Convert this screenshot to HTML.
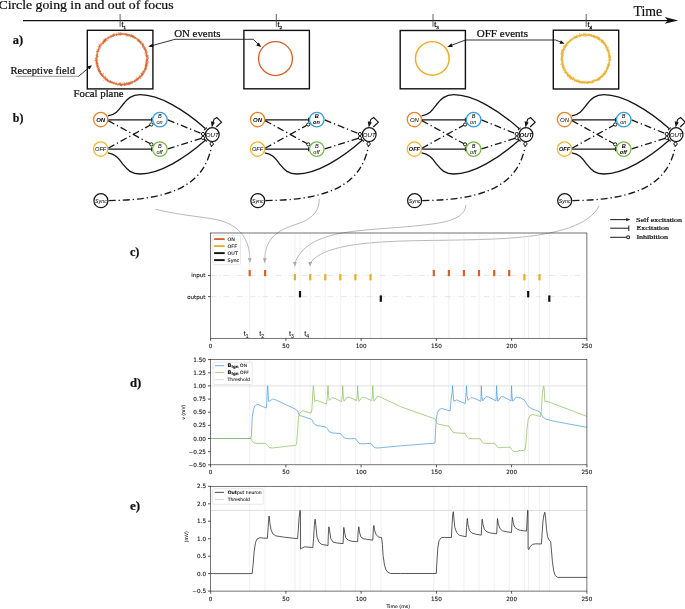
<!DOCTYPE html>
<html lang="en"><head><meta charset="utf-8"><title>Circle going in and out of focus</title>
<style>
html,body{margin:0;padding:0;background:#fff;}
body{width:685px;height:609px;overflow:hidden;}
svg{display:block;font-family:"Liberation Serif","DejaVu Serif",serif;}
</style></head><body>
<svg width="685" height="609" viewBox="0 0 685 609">
<rect width="685" height="609" fill="#fff"/>
<g id="panel-a">
<text x="-1.5" y="8.9" font-size="11.6" text-anchor="start" fill="#111" stroke="#111" stroke-width="0.22" textLength="175.0" lengthAdjust="spacingAndGlyphs" >Circle going in and out of focus</text>
<text x="633.6" y="15.5" font-size="14.2" text-anchor="start" fill="#111" stroke="#111" stroke-width="0.22" textLength="28.6" lengthAdjust="spacingAndGlyphs" >Time</text>
<line x1="23" y1="20.5" x2="668" y2="20.5" stroke="#111" stroke-width="1.25"/>
<path d="M678.2,20.4 L664.6,17.0 L668.0,20.4 L664.6,23.8 Z" fill="#111"/>
<line x1="120.1" y1="14.0" x2="120.1" y2="26.9" stroke="#3a3a3a" stroke-width="0.8"/>
<text x="121.4" y="27.1" font-size="7.2" fill="#111" stroke="#111" stroke-width="0.3">t<tspan font-size="5.0" dy="1.6">1</tspan></text>
<line x1="276.3" y1="14.0" x2="276.3" y2="26.9" stroke="#3a3a3a" stroke-width="0.8"/>
<text x="277.6" y="27.1" font-size="7.2" fill="#111" stroke="#111" stroke-width="0.3">t<tspan font-size="5.0" dy="1.6">2</tspan></text>
<line x1="433.0" y1="14.0" x2="433.0" y2="26.9" stroke="#3a3a3a" stroke-width="0.8"/>
<text x="434.3" y="27.1" font-size="7.2" fill="#111" stroke="#111" stroke-width="0.3">t<tspan font-size="5.0" dy="1.6">3</tspan></text>
<line x1="586.2" y1="14.0" x2="586.2" y2="26.9" stroke="#3a3a3a" stroke-width="0.8"/>
<text x="587.5" y="27.1" font-size="7.2" fill="#111" stroke="#111" stroke-width="0.3">t<tspan font-size="5.0" dy="1.6">4</tspan></text>
<rect x="87.3" y="30.3" width="65.6" height="58.6" fill="none" stroke="#111" stroke-width="1.4"/>
<rect x="243.9" y="30.4" width="65.5" height="58.4" fill="none" stroke="#111" stroke-width="1.4"/>
<rect x="400.2" y="30.5" width="65.2" height="58.3" fill="none" stroke="#111" stroke-width="1.4"/>
<rect x="553.3" y="30.2" width="65.4" height="58.8" fill="none" stroke="#111" stroke-width="1.4"/>
<circle cx="121.8" cy="59.3" r="25.3" fill="none" stroke="#d9602b" stroke-width="1.5" opacity="0.55"/>
<path d="M110.2,82.5h0.01M145.3,70.8h0.01M97.3,53.7h0.01M96.3,58.1h0.01M146.2,65.1h0.01M143.2,73.0h0.01M99.1,70.9h0.01M126.0,83.9h0.01M103.6,40.5h0.01M101.9,74.4h0.01M148.2,55.3h0.01M115.5,84.2h0.01M137.7,79.6h0.01M132.2,35.8h0.01M132.1,81.4h0.01M104.6,77.1h0.01M97.4,51.8h0.01M128.7,83.7h0.01M111.3,36.9h0.01M99.8,46.2h0.01M98.0,66.5h0.01M113.4,34.1h0.01M122.7,83.8h0.01M139.4,41.7h0.01M118.6,34.7h0.01M141.9,77.7h0.01M99.8,71.8h0.01M97.0,61.0h0.01M145.8,65.3h0.01M100.1,48.6h0.01M139.4,41.8h0.01M100.0,44.6h0.01M100.8,47.8h0.01M145.9,50.6h0.01M97.0,63.4h0.01M114.3,35.4h0.01M105.8,38.0h0.01M116.4,83.9h0.01M102.8,75.9h0.01M97.4,65.3h0.01M134.4,81.5h0.01M124.7,34.0h0.01M139.2,77.7h0.01M139.8,40.5h0.01M143.2,71.2h0.01M140.8,42.2h0.01M132.6,36.0h0.01M100.4,71.9h0.01M105.0,80.0h0.01M135.8,78.9h0.01M133.1,82.0h0.01M96.1,61.7h0.01M100.4,45.9h0.01M99.7,71.7h0.01M105.7,76.6h0.01M112.8,36.4h0.01M97.4,56.9h0.01M145.0,67.5h0.01M142.4,44.2h0.01M128.9,36.5h0.01M102.3,75.0h0.01M104.9,40.2h0.01M145.6,69.1h0.01M135.2,81.0h0.01M108.2,80.7h0.01M136.5,79.9h0.01M142.0,74.3h0.01M139.7,41.2h0.01M102.5,42.5h0.01M107.0,80.4h0.01M104.5,79.1h0.01M148.1,58.2h0.01M97.4,64.6h0.01M142.1,74.5h0.01M108.0,80.3h0.01M135.9,81.9h0.01M147.7,63.1h0.01M136.9,79.2h0.01M96.6,52.3h0.01M147.0,55.9h0.01M138.2,40.3h0.01M105.2,77.7h0.01M134.5,81.3h0.01M126.2,35.3h0.01M109.6,81.7h0.01M148.3,56.8h0.01M137.3,38.7h0.01M120.3,35.3h0.01M125.4,83.7h0.01M146.6,63.9h0.01M146.6,63.7h0.01M112.7,35.1h0.01M144.6,52.9h0.01M147.6,57.4h0.01M145.8,52.3h0.01M125.5,84.7h0.01M130.2,83.5h0.01M143.1,43.9h0.01M134.9,38.9h0.01M129.6,35.1h0.01M142.9,71.7h0.01M126.6,35.8h0.01M121.8,34.4h0.01M128.0,34.7h0.01M109.0,81.8h0.01M103.2,73.6h0.01M100.3,74.6h0.01M133.8,81.1h0.01M140.1,78.1h0.01M131.0,34.4h0.01M137.7,80.1h0.01M108.9,39.7h0.01M107.1,79.4h0.01M146.9,61.6h0.01M146.2,54.8h0.01M144.3,49.3h0.01M97.8,69.9h0.01M127.7,82.9h0.01M121.5,84.5h0.01M99.7,46.0h0.01M120.3,84.2h0.01M143.3,45.6h0.01M107.0,78.7h0.01M142.9,44.8h0.01M98.9,71.8h0.01M97.4,54.4h0.01M96.0,55.5h0.01M132.2,82.5h0.01M147.2,59.9h0.01M97.3,63.4h0.01M118.0,34.9h0.01M96.9,56.4h0.01M98.0,50.6h0.01M98.6,50.1h0.01M122.0,84.4h0.01M95.3,58.0h0.01M98.3,49.7h0.01M99.6,67.6h0.01M103.2,43.4h0.01M112.9,35.6h0.01M98.4,66.5h0.01M145.3,50.3h0.01M113.5,34.1h0.01M120.3,83.4h0.01M97.0,49.6h0.01M138.0,78.1h0.01M139.9,76.6h0.01M123.3,84.7h0.01M143.9,70.2h0.01M141.1,44.7h0.01M136.0,80.0h0.01M136.9,78.3h0.01M140.9,42.0h0.01M145.9,51.9h0.01M103.2,73.1h0.01M134.4,37.2h0.01M134.7,80.1h0.01M108.2,81.0h0.01M130.1,82.7h0.01M147.9,62.5h0.01M98.1,50.9h0.01M109.4,81.4h0.01M104.0,41.7h0.01M147.0,56.9h0.01M127.9,34.4h0.01M119.3,84.4h0.01M146.4,65.6h0.01M138.8,77.3h0.01M98.5,71.7h0.01M120.5,83.9h0.01M137.2,80.4h0.01M114.2,35.7h0.01M144.1,73.3h0.01M98.9,70.9h0.01M145.4,70.8h0.01M129.7,35.7h0.01M143.8,72.1h0.01M138.1,40.2h0.01M98.0,66.4h0.01M145.2,47.7h0.01M118.9,85.0h0.01M123.7,85.2h0.01M141.4,75.4h0.01M129.4,83.6h0.01M112.3,82.3h0.01M115.2,84.9h0.01M96.2,59.3h0.01M147.5,62.2h0.01M121.7,85.8h0.01M97.7,51.3h0.01M130.6,81.2h0.01M141.9,75.1h0.01M132.1,37.0h0.01M134.8,37.2h0.01M102.9,74.4h0.01M146.9,56.5h0.01M107.6,80.9h0.01M105.8,41.0h0.01M101.0,73.5h0.01M139.3,77.9h0.01M144.6,70.2h0.01M134.6,80.5h0.01M144.3,72.5h0.01M110.3,38.2h0.01M116.8,84.1h0.01M96.7,65.8h0.01M135.4,80.0h0.01M146.6,53.2h0.01M146.2,55.1h0.01M146.4,53.9h0.01M112.6,82.8h0.01M103.2,76.4h0.01M97.3,63.2h0.01M96.5,58.5h0.01M147.1,60.1h0.01M101.1,74.4h0.01M146.8,66.0h0.01M124.5,84.5h0.01M101.1,46.9h0.01M108.0,38.3h0.01M116.3,34.1h0.01M110.4,81.3h0.01M147.7,56.8h0.01M105.5,38.8h0.01M146.9,66.4h0.01M105.1,42.1h0.01M119.2,34.0h0.01M97.1,55.6h0.01M95.8,58.6h0.01M133.0,37.9h0.01M99.2,46.1h0.01M113.2,36.2h0.01M125.0,84.8h0.01M105.5,78.8h0.01M142.2,75.1h0.01M104.8,41.7h0.01M104.3,41.5h0.01M146.3,59.8h0.01M129.3,35.1h0.01M97.9,53.9h0.01M107.6,37.1h0.01M121.4,85.1h0.01M144.3,70.7h0.01M129.1,84.7h0.01M120.1,33.2h0.01M103.2,76.2h0.01M97.2,62.6h0.01M103.9,43.1h0.01M105.8,39.2h0.01M121.2,84.8h0.01M120.7,34.3h0.01M147.9,61.3h0.01M145.2,68.7h0.01M112.4,34.7h0.01M110.5,36.9h0.01M96.3,65.1h0.01M96.0,64.8h0.01M130.1,84.3h0.01M147.0,55.8h0.01M97.4,65.7h0.01M132.9,35.7h0.01M118.9,84.3h0.01M128.2,84.3h0.01M99.9,47.0h0.01M136.6,77.6h0.01M138.6,77.8h0.01M132.0,37.8h0.01M114.5,35.2h0.01M124.8,85.1h0.01M146.3,63.2h0.01M146.3,59.9h0.01M113.7,83.3h0.01M137.6,78.6h0.01M135.7,37.5h0.01M147.1,59.6h0.01M139.2,75.7h0.01M144.1,48.2h0.01M115.9,82.4h0.01M105.7,76.0h0.01M99.0,45.0h0.01M105.9,78.3h0.01M146.2,66.9h0.01M142.3,74.6h0.01M144.6,49.5h0.01M121.9,84.5h0.01M131.5,83.6h0.01M103.1,78.4h0.01M131.2,36.3h0.01M103.6,39.7h0.01M98.5,51.9h0.01M116.8,33.4h0.01M97.4,67.1h0.01M122.2,34.4h0.01M145.5,66.8h0.01M145.0,47.8h0.01M107.4,80.8h0.01M114.4,83.3h0.01M120.3,82.6h0.01M107.9,38.5h0.01M101.2,75.4h0.01M134.5,81.5h0.01M143.2,45.0h0.01M96.2,59.8h0.01M148.6,58.7h0.01M97.5,67.2h0.01M143.4,73.1h0.01M107.7,80.9h0.01M120.5,84.9h0.01M98.1,48.2h0.01M100.9,72.1h0.01M100.7,72.0h0.01M108.5,80.7h0.01M144.9,68.8h0.01M140.9,78.6h0.01M97.5,58.8h0.01M126.9,83.0h0.01M118.5,84.4h0.01M97.3,68.0h0.01M146.9,51.8h0.01M145.7,62.6h0.01M146.2,64.3h0.01M98.3,63.3h0.01M99.6,45.8h0.01M144.5,48.1h0.01M133.9,35.7h0.01M122.0,83.1h0.01M141.8,75.6h0.01M111.0,35.6h0.01M145.2,50.3h0.01M124.1,35.1h0.01M97.6,66.0h0.01M126.9,34.6h0.01M124.7,85.4h0.01M113.6,82.7h0.01M139.3,77.5h0.01M113.4,34.3h0.01M141.7,76.2h0.01M99.5,46.5h0.01M102.4,75.8h0.01M148.0,61.0h0.01M114.3,81.6h0.01M106.0,39.0h0.01M140.3,42.8h0.01M122.3,84.7h0.01M146.2,53.1h0.01M146.3,62.7h0.01M96.8,59.6h0.01M120.7,83.9h0.01M109.0,36.9h0.01M146.3,64.6h0.01M109.0,80.0h0.01M130.1,83.8h0.01M129.2,35.2h0.01M128.6,82.8h0.01M146.2,54.6h0.01M125.0,85.6h0.01M126.3,84.2h0.01M145.4,52.0h0.01M96.3,60.0h0.01M99.5,72.1h0.01M108.8,37.2h0.01M102.1,74.9h0.01M127.7,84.3h0.01M145.7,67.4h0.01M144.2,68.2h0.01M141.3,41.8h0.01M118.9,32.5h0.01M109.7,81.5h0.01M132.2,83.6h0.01M146.1,64.2h0.01M109.1,38.0h0.01M109.1,81.8h0.01M134.4,81.9h0.01M106.7,79.6h0.01M147.4,52.0h0.01M128.8,85.0h0.01M105.7,79.6h0.01M99.8,69.2h0.01M145.2,66.8h0.01M144.0,47.0h0.01M130.3,82.1h0.01M147.8,64.3h0.01M100.0,73.0h0.01M145.2,65.4h0.01M148.0,65.1h0.01M120.7,85.2h0.01M121.4,33.5h0.01M118.3,84.0h0.01M145.8,52.8h0.01M116.6,34.9h0.01M111.5,82.4h0.01M122.7,34.0h0.01M142.7,47.2h0.01M145.5,62.9h0.01M124.2,82.7h0.01M146.3,52.0h0.01M102.7,75.8h0.01M95.8,60.4h0.01M145.0,48.0h0.01M119.9,32.9h0.01M133.0,36.5h0.01M110.4,80.8h0.01M111.4,81.5h0.01M144.9,71.8h0.01M130.0,83.2h0.01M144.5,69.1h0.01M145.9,64.5h0.01M146.7,56.2h0.01M141.0,42.0h0.01M143.6,72.0h0.01M141.7,73.1h0.01M97.9,67.6h0.01M124.2,83.6h0.01M110.0,36.4h0.01M121.5,33.4h0.01M139.5,76.2h0.01M135.3,38.2h0.01M103.5,78.1h0.01M119.9,33.9h0.01M122.6,85.1h0.01M136.6,80.7h0.01M110.4,81.2h0.01M101.0,75.2h0.01M124.7,84.4h0.01M130.4,36.9h0.01M140.6,73.4h0.01M96.2,63.4h0.01M142.5,47.0h0.01M146.2,65.6h0.01M131.3,83.1h0.01M145.3,55.3h0.01M104.8,76.9h0.01M138.3,40.8h0.01M126.2,34.2h0.01M146.4,50.6h0.01M102.9,41.6h0.01M126.9,83.8h0.01M129.1,83.8h0.01M121.0,83.7h0.01M128.9,82.9h0.01M146.5,61.1h0.01M132.2,83.4h0.01M112.0,83.0h0.01M96.5,51.4h0.01M145.7,69.3h0.01M97.3,51.3h0.01M105.3,39.6h0.01M113.2,35.3h0.01M100.6,72.8h0.01M146.6,51.8h0.01M112.4,82.1h0.01M100.1,71.8h0.01M138.9,39.7h0.01M130.0,83.2h0.01M118.3,34.2h0.01M142.5,44.6h0.01M99.1,71.1h0.01M140.1,42.8h0.01M97.2,65.5h0.01M97.7,51.2h0.01M105.6,39.5h0.01M103.7,41.8h0.01M104.7,77.4h0.01M116.5,84.0h0.01M96.4,55.9h0.01M96.7,60.8h0.01M130.5,35.0h0.01M139.4,77.3h0.01M146.3,50.2h0.01M145.6,67.6h0.01M143.4,48.5h0.01M102.7,41.2h0.01M133.5,36.1h0.01M126.4,85.3h0.01M100.3,74.0h0.01M131.7,81.4h0.01M126.7,83.4h0.01M102.6,76.5h0.01M139.9,77.0h0.01M142.9,43.4h0.01M145.2,65.5h0.01M145.9,65.2h0.01M135.5,37.2h0.01M97.1,51.3h0.01M104.3,41.4h0.01M99.2,46.4h0.01M99.6,70.5h0.01M99.0,68.6h0.01M146.2,62.9h0.01M124.1,83.9h0.01M124.0,33.9h0.01M132.3,81.5h0.01M96.6,63.6h0.01M98.7,70.1h0.01M142.3,72.6h0.01M146.6,65.8h0.01M104.6,39.4h0.01M126.3,33.8h0.01M95.8,57.4h0.01M103.4,77.1h0.01M146.8,51.3h0.01M148.2,58.7h0.01M118.9,34.0h0.01M146.5,56.5h0.01M95.0,60.7h0.01M134.4,80.7h0.01M127.9,34.5h0.01M106.9,79.6h0.01M122.8,33.2h0.01M117.6,85.6h0.01M132.2,35.6h0.01M144.5,46.8h0.01M128.3,83.7h0.01M110.8,83.0h0.01M146.6,65.1h0.01M145.5,49.3h0.01M110.8,36.1h0.01M127.2,34.9h0.01M140.0,75.4h0.01M105.8,78.7h0.01M138.8,41.8h0.01M140.3,42.5h0.01M142.6,75.4h0.01M101.9,74.9h0.01M129.2,35.3h0.01M97.5,46.5h0.01M105.6,78.8h0.01M132.7,81.3h0.01M120.7,32.7h0.01M121.2,85.0h0.01M105.0,39.2h0.01M108.8,37.7h0.01M112.0,82.8h0.01M136.8,79.7h0.01M103.5,43.0h0.01M142.1,43.6h0.01M139.0,78.1h0.01M147.9,63.0h0.01M146.9,59.7h0.01M105.9,79.3h0.01M125.7,83.4h0.01M128.8,83.1h0.01M104.1,41.8h0.01M145.2,49.5h0.01M122.8,84.8h0.01M105.3,39.8h0.01M139.4,40.9h0.01M119.6,83.8h0.01M146.5,61.1h0.01M107.3,79.1h0.01M107.3,40.5h0.01M119.1,33.6h0.01M122.0,84.8h0.01M97.1,54.3h0.01M100.8,73.4h0.01M126.4,34.2h0.01M145.4,61.1h0.01M137.3,78.6h0.01M129.5,82.7h0.01M106.2,40.1h0.01M131.7,35.7h0.01M113.8,83.9h0.01M146.9,67.2h0.01M116.5,35.4h0.01M147.7,60.3h0.01M98.1,64.6h0.01M120.5,34.5h0.01M141.9,74.9h0.01M124.7,85.1h0.01M121.7,33.8h0.01M113.0,34.9h0.01M119.4,83.5h0.01M99.0,51.3h0.01M96.3,55.5h0.01M119.5,83.3h0.01M126.7,82.6h0.01M140.7,41.6h0.01M124.0,84.6h0.01M120.8,32.9h0.01M110.2,81.3h0.01M140.1,42.2h0.01M143.3,45.2h0.01M104.8,41.1h0.01M145.9,56.1h0.01M96.4,64.2h0.01M137.0,40.3h0.01M98.6,69.0h0.01M113.1,82.1h0.01M127.7,83.7h0.01M143.1,46.0h0.01M137.6,79.5h0.01M144.7,48.4h0.01M107.5,80.3h0.01M146.4,65.9h0.01M113.1,36.3h0.01M119.8,34.9h0.01M144.4,69.2h0.01M132.1,36.6h0.01M132.6,36.2h0.01M138.7,40.7h0.01M143.8,46.2h0.01M128.7,83.5h0.01M142.1,76.5h0.01M131.5,35.6h0.01M104.7,40.1h0.01M116.1,83.0h0.01M143.1,74.7h0.01M129.1,84.3h0.01M111.2,82.1h0.01M120.7,84.6h0.01M116.7,83.9h0.01M111.2,81.5h0.01M145.1,53.9h0.01M103.2,42.2h0.01M146.0,64.1h0.01M125.5,33.9h0.01M107.5,79.9h0.01M126.9,83.2h0.01M138.9,39.2h0.01M134.3,82.1h0.01M147.5,59.5h0.01M148.0,55.6h0.01M146.3,60.0h0.01M129.1,35.0h0.01M131.7,81.9h0.01M134.3,37.3h0.01M120.1,85.1h0.01M127.3,83.8h0.01M114.0,35.6h0.01M105.2,40.2h0.01M144.1,71.7h0.01M127.4,35.7h0.01M104.6,41.4h0.01M101.4,75.2h0.01M142.3,42.4h0.01M147.6,63.4h0.01M128.7,83.5h0.01M95.0,59.1h0.01M103.1,77.0h0.01M97.6,65.4h0.01M97.0,54.3h0.01M107.2,40.1h0.01M107.2,79.8h0.01M136.0,37.9h0.01M108.5,37.8h0.01M98.8,68.6h0.01M125.5,34.6h0.01M97.4,65.2h0.01M140.8,42.6h0.01M113.6,83.7h0.01M114.4,34.9h0.01M135.7,80.0h0.01M122.2,84.2h0.01M135.6,81.4h0.01M109.5,82.3h0.01M118.2,32.4h0.01M142.4,74.6h0.01M103.0,76.1h0.01M147.3,56.7h0.01M99.6,68.9h0.01M130.1,83.0h0.01M128.6,83.4h0.01M101.9,76.1h0.01M128.3,34.7h0.01M113.4,36.5h0.01M97.2,65.1h0.01M137.3,78.5h0.01M120.4,34.5h0.01M142.3,45.9h0.01M121.7,33.6h0.01M99.4,71.4h0.01M141.1,41.2h0.01M125.5,34.7h0.01M111.5,37.6h0.01M106.2,40.1h0.01M104.2,40.9h0.01M141.6,73.3h0.01M115.9,34.1h0.01M104.4,40.9h0.01M96.8,66.5h0.01M104.2,42.4h0.01M145.2,48.3h0.01M131.8,81.8h0.01M103.2,74.9h0.01M96.4,60.9h0.01M97.5,52.5h0.01M135.4,81.0h0.01M98.3,56.5h0.01M141.5,73.8h0.01M116.7,34.9h0.01M97.4,57.4h0.01M97.8,56.0h0.01M100.0,73.1h0.01M111.7,36.3h0.01M102.0,75.1h0.01M146.6,56.9h0.01M105.9,79.7h0.01M101.2,74.3h0.01M146.4,61.4h0.01M113.6,35.0h0.01M106.7,79.5h0.01M120.4,33.5h0.01M144.9,50.2h0.01M129.8,35.4h0.01M102.0,75.2h0.01M126.1,34.0h0.01M130.9,36.3h0.01M99.0,49.9h0.01M125.7,85.0h0.01M105.6,40.0h0.01M132.5,36.0h0.01M115.0,82.9h0.01M96.7,51.5h0.01M105.7,80.1h0.01M136.7,39.0h0.01M121.2,85.3h0.01M99.2,70.6h0.01M117.3,34.3h0.01M116.9,84.1h0.01M96.1,62.6h0.01M99.6,70.0h0.01M105.9,77.9h0.01M144.7,48.3h0.01M133.6,37.1h0.01M142.9,45.1h0.01M134.0,37.6h0.01M104.8,40.4h0.01M146.0,51.7h0.01M107.7,38.3h0.01M137.8,79.3h0.01M124.4,84.6h0.01M135.9,79.5h0.01M142.7,44.9h0.01M141.1,43.6h0.01M102.0,43.2h0.01M140.9,44.3h0.01M127.9,34.5h0.01M113.0,36.0h0.01M97.0,54.4h0.01M140.0,42.8h0.01M98.0,50.7h0.01M138.3,79.1h0.01M95.8,60.4h0.01M137.6,79.5h0.01M97.4,60.6h0.01M138.3,40.1h0.01M147.5,60.4h0.01M99.1,49.9h0.01M108.8,37.2h0.01M100.2,71.4h0.01M147.2,52.9h0.01M104.9,39.9h0.01M145.9,63.7h0.01M144.2,49.0h0.01M109.1,82.2h0.01M96.7,61.7h0.01M142.9,43.4h0.01M103.8,41.2h0.01M108.2,81.2h0.01M97.3,63.2h0.01M96.8,55.2h0.01M99.0,69.1h0.01M100.6,70.6h0.01M115.2,83.3h0.01M133.3,37.6h0.01M118.3,84.8h0.01M95.5,58.2h0.01M128.3,35.0h0.01M109.6,81.2h0.01M99.7,45.9h0.01M105.0,40.3h0.01M117.5,34.6h0.01M140.7,42.8h0.01M113.9,83.3h0.01M147.7,60.3h0.01M101.0,42.4h0.01M107.8,37.8h0.01M103.7,44.0h0.01M103.6,42.9h0.01M101.6,45.4h0.01M111.1,36.1h0.01M96.4,66.2h0.01M123.8,33.7h0.01M146.7,65.2h0.01M125.8,33.4h0.01M105.0,77.5h0.01M133.0,36.4h0.01M120.6,83.7h0.01M113.9,82.7h0.01M98.6,70.1h0.01M105.8,39.5h0.01M98.8,48.9h0.01M147.3,65.7h0.01M98.5,47.4h0.01M143.8,47.0h0.01M102.6,75.8h0.01M99.0,44.5h0.01M97.6,63.1h0.01M99.5,73.0h0.01M127.9,84.5h0.01M136.5,80.0h0.01M111.6,36.2h0.01M140.3,77.0h0.01M139.0,40.9h0.01M140.0,78.5h0.01M123.0,84.7h0.01M119.2,34.0h0.01M125.6,34.1h0.01M115.9,34.0h0.01M142.8,71.6h0.01M104.5,41.2h0.01M144.1,49.2h0.01M121.1,85.7h0.01M146.8,61.1h0.01M146.2,61.6h0.01M143.0,70.9h0.01M112.4,82.7h0.01M137.8,40.2h0.01M96.0,61.5h0.01M99.0,47.7h0.01M98.5,68.7h0.01M129.1,35.5h0.01M105.7,78.0h0.01M100.5,71.4h0.01M102.5,76.2h0.01M126.9,36.2h0.01M98.8,49.0h0.01M147.0,55.1h0.01M114.4,34.8h0.01M102.3,44.0h0.01M147.3,55.7h0.01M113.0,82.1h0.01M98.5,70.5h0.01M111.9,36.5h0.01M100.7,43.6h0.01M116.7,83.3h0.01M147.0,59.6h0.01M99.5,45.8h0.01M132.1,36.0h0.01M134.4,37.5h0.01M131.6,35.3h0.01M118.1,83.6h0.01M137.1,38.6h0.01M142.6,46.8h0.01M106.9,80.7h0.01M129.4,34.7h0.01M129.6,83.4h0.01M124.2,82.8h0.01M102.3,43.8h0.01M128.4,83.0h0.01M121.0,84.6h0.01M98.5,65.3h0.01M143.7,72.8h0.01M124.4,83.3h0.01M98.5,46.6h0.01M97.6,56.0h0.01M97.2,63.0h0.01M130.7,82.7h0.01M132.4,82.1h0.01M99.1,49.6h0.01M101.4,73.6h0.01M146.1,66.3h0.01M146.9,58.8h0.01M104.6,40.4h0.01M127.8,34.2h0.01M107.1,80.9h0.01M96.5,56.2h0.01M147.1,57.8h0.01M138.0,41.1h0.01M120.0,84.6h0.01M126.1,36.0h0.01M124.6,33.4h0.01M132.6,35.8h0.01M146.3,65.2h0.01M129.5,83.5h0.01M146.1,67.4h0.01M97.6,50.2h0.01M145.2,51.2h0.01M143.9,45.3h0.01M101.3,74.7h0.01M140.6,77.0h0.01M98.7,49.4h0.01M105.1,38.9h0.01M102.2,74.9h0.01M96.9,67.7h0.01M148.6,57.9h0.01M126.4,84.7h0.01M106.6,79.7h0.01M143.5,44.1h0.01M145.3,66.4h0.01M127.5,34.9h0.01M146.0,57.1h0.01M146.3,68.2h0.01M146.2,49.5h0.01M110.7,36.9h0.01M123.1,33.1h0.01M141.6,74.7h0.01M140.1,77.4h0.01M96.4,62.3h0.01M137.8,79.5h0.01M110.2,35.5h0.01M130.4,83.2h0.01M146.9,65.1h0.01M144.7,49.2h0.01M138.9,40.3h0.01M98.1,67.5h0.01M143.6,74.5h0.01M104.7,41.5h0.01M98.3,66.6h0.01M95.6,63.0h0.01M104.1,40.8h0.01M145.9,68.3h0.01M116.2,35.0h0.01M139.1,41.0h0.01M119.2,84.1h0.01M118.4,84.6h0.01M135.2,38.1h0.01M96.2,60.8h0.01M111.2,82.6h0.01M146.7,55.9h0.01M146.3,68.4h0.01M127.8,83.2h0.01M96.9,62.9h0.01M129.5,84.0h0.01M103.5,80.3h0.01M144.2,47.9h0.01M142.2,73.6h0.01M146.9,68.8h0.01M118.2,34.8h0.01M148.9,62.0h0.01M130.6,35.8h0.01M147.4,59.6h0.01M134.1,37.7h0.01M98.6,69.3h0.01M143.5,45.9h0.01M138.8,79.3h0.01M132.6,82.3h0.01M129.7,82.1h0.01M144.8,71.8h0.01M96.0,60.0h0.01M118.0,84.6h0.01M114.9,34.0h0.01M131.2,36.3h0.01M144.8,69.4h0.01M119.2,35.1h0.01M146.2,68.1h0.01M130.9,36.5h0.01M139.3,39.4h0.01M95.0,60.5h0.01M96.6,63.0h0.01M139.3,41.1h0.01M134.4,36.9h0.01M104.6,78.3h0.01M100.4,44.8h0.01M146.3,60.0h0.01M96.7,56.8h0.01M139.9,76.5h0.01M137.7,41.3h0.01M111.0,82.0h0.01M122.0,34.7h0.01M146.4,69.3h0.01M97.8,60.1h0.01M97.5,57.3h0.01M146.7,62.6h0.01M146.6,54.1h0.01M142.4,74.8h0.01M121.7,84.7h0.01M142.5,73.6h0.01M113.8,35.2h0.01M101.2,44.4h0.01M100.3,48.1h0.01M141.9,74.4h0.01M139.0,40.8h0.01M139.8,76.8h0.01M97.1,60.3h0.01M140.0,76.9h0.01M100.3,73.8h0.01M138.5,39.4h0.01M136.4,78.7h0.01M134.5,80.6h0.01M133.7,36.2h0.01M99.8,71.3h0.01M134.9,38.5h0.01M145.3,50.2h0.01M126.0,34.6h0.01M108.7,81.5h0.01M97.4,69.8h0.01M143.3,46.2h0.01M131.9,36.0h0.01M96.8,56.6h0.01M146.7,52.5h0.01M99.7,71.1h0.01M105.2,41.0h0.01M145.3,70.2h0.01M98.8,69.6h0.01M138.0,78.7h0.01M146.9,54.5h0.01M106.0,41.8h0.01M131.4,34.7h0.01M145.5,64.5h0.01" fill="none" stroke="#d9602b" stroke-width="0.7" stroke-linecap="round" opacity="0.75"/>
<circle cx="275.5" cy="58.6" r="16.95" fill="none" stroke="#d9602b" stroke-width="1.35"/>
<circle cx="432.3" cy="58.4" r="16.8" fill="none" stroke="#e9ac22" stroke-width="1.45"/>
<circle cx="585.7" cy="58.7" r="23.9" fill="none" stroke="#e9ac22" stroke-width="1.5" opacity="0.55"/>
<path d="M570.7,40.2h0.01M582.0,83.4h0.01M561.8,52.2h0.01M585.6,82.1h0.01M563.6,55.9h0.01M580.0,82.6h0.01M577.6,81.0h0.01M566.1,45.5h0.01M608.2,52.3h0.01M562.4,63.7h0.01M562.1,53.6h0.01M602.1,76.5h0.01M579.4,81.2h0.01M586.7,82.9h0.01M604.9,70.5h0.01M567.6,43.7h0.01M564.3,48.6h0.01M579.9,35.9h0.01M563.4,64.3h0.01M562.5,63.3h0.01M576.8,80.9h0.01M561.4,56.8h0.01M568.0,74.6h0.01M571.4,77.8h0.01M601.2,40.4h0.01M560.9,60.0h0.01M580.4,82.6h0.01M589.0,35.1h0.01M599.4,79.9h0.01M562.9,67.7h0.01M607.3,67.6h0.01M583.5,34.4h0.01M604.4,74.0h0.01M583.9,33.1h0.01M599.0,78.1h0.01M574.6,36.9h0.01M567.3,42.2h0.01M563.0,56.2h0.01M584.0,34.9h0.01M563.3,62.2h0.01M590.8,35.8h0.01M601.3,74.7h0.01M603.0,40.5h0.01M565.2,46.4h0.01M560.9,59.0h0.01M565.1,70.4h0.01M590.9,34.7h0.01M568.8,74.6h0.01M563.9,65.4h0.01M579.3,82.0h0.01M567.7,73.4h0.01M575.4,80.0h0.01M591.3,35.0h0.01M563.9,66.7h0.01M595.2,80.5h0.01M564.1,47.6h0.01M563.7,46.3h0.01M574.6,80.8h0.01M599.5,38.0h0.01M592.0,80.1h0.01M564.2,69.4h0.01M608.5,65.7h0.01M565.2,49.9h0.01M589.2,35.0h0.01M561.7,52.8h0.01M561.9,56.1h0.01M576.4,37.2h0.01M565.6,45.1h0.01M570.9,78.8h0.01M562.4,55.0h0.01M604.7,72.3h0.01M563.1,49.5h0.01M563.1,47.4h0.01M563.2,60.6h0.01M565.1,66.9h0.01M573.4,77.2h0.01M562.1,54.2h0.01M576.0,80.1h0.01M609.8,55.4h0.01M603.5,73.5h0.01M604.2,44.3h0.01M608.3,57.3h0.01M603.7,43.5h0.01M579.7,82.0h0.01M562.3,57.0h0.01M595.5,80.5h0.01M569.7,41.7h0.01M609.2,57.8h0.01M569.6,40.1h0.01M591.3,35.3h0.01M577.4,81.1h0.01M577.7,81.2h0.01M598.3,39.5h0.01M593.4,80.7h0.01M562.3,59.0h0.01M571.4,39.8h0.01M561.3,53.8h0.01M565.4,71.4h0.01M603.5,75.7h0.01M605.2,74.2h0.01M605.4,73.0h0.01M596.6,36.6h0.01M567.5,43.1h0.01M609.3,60.6h0.01M588.7,35.5h0.01M570.6,78.5h0.01M597.3,79.6h0.01M605.6,44.9h0.01M565.3,47.1h0.01M567.2,74.9h0.01M608.9,67.0h0.01M608.2,52.9h0.01M563.9,67.4h0.01M608.3,65.1h0.01M607.7,48.5h0.01M604.5,44.8h0.01M595.2,37.1h0.01M609.7,52.5h0.01M561.3,59.4h0.01M567.4,73.9h0.01M581.0,35.2h0.01M603.1,41.4h0.01M561.8,61.1h0.01M596.5,79.4h0.01M570.2,77.8h0.01M579.2,83.5h0.01M562.9,49.4h0.01M567.3,74.8h0.01M565.8,72.6h0.01M596.7,37.3h0.01M571.5,77.9h0.01M580.6,82.5h0.01M587.7,83.6h0.01M572.6,79.0h0.01M599.0,78.5h0.01M582.8,82.1h0.01M598.1,37.7h0.01M598.3,37.7h0.01M593.9,35.9h0.01M581.5,34.6h0.01M568.3,75.7h0.01M608.4,51.5h0.01M561.7,58.0h0.01M602.5,76.8h0.01M579.3,35.8h0.01M564.0,45.4h0.01M569.5,76.3h0.01M591.5,82.9h0.01M602.8,41.1h0.01M562.1,52.2h0.01M582.6,82.5h0.01M573.0,39.3h0.01M564.2,49.0h0.01M606.8,71.3h0.01M596.4,80.5h0.01M573.5,38.7h0.01M603.7,73.4h0.01M562.1,58.6h0.01M578.6,82.1h0.01M589.3,82.6h0.01M602.4,75.6h0.01M566.5,72.0h0.01M606.0,45.6h0.01M600.1,41.5h0.01M601.8,76.3h0.01M575.4,36.9h0.01M573.6,38.6h0.01M572.5,38.1h0.01M578.2,36.0h0.01M570.6,79.0h0.01M569.1,41.3h0.01M606.4,46.1h0.01M583.3,35.0h0.01M608.7,64.6h0.01M598.4,79.2h0.01M567.8,75.4h0.01M608.5,64.4h0.01M596.3,81.2h0.01M597.9,39.4h0.01M585.0,82.1h0.01M564.0,68.1h0.01M609.0,58.8h0.01M597.8,38.0h0.01M608.2,64.9h0.01M600.1,39.9h0.01M586.5,82.4h0.01M604.1,74.2h0.01M605.8,46.7h0.01M585.6,33.8h0.01M566.5,73.9h0.01M585.3,34.5h0.01M605.4,71.2h0.01M606.9,51.3h0.01M576.9,35.7h0.01M584.0,34.4h0.01M563.7,65.4h0.01M608.0,66.6h0.01M562.6,57.0h0.01M608.0,47.9h0.01M609.5,65.4h0.01M578.7,35.7h0.01M563.3,52.0h0.01M608.6,54.2h0.01M585.7,81.9h0.01M607.5,67.2h0.01M593.1,82.0h0.01M576.6,81.6h0.01M573.8,37.0h0.01M587.5,82.6h0.01M562.4,67.1h0.01M607.4,49.5h0.01M604.0,42.5h0.01M600.3,76.8h0.01M595.1,37.0h0.01M562.9,51.6h0.01M574.0,38.4h0.01M567.2,45.5h0.01M597.5,37.6h0.01M603.6,74.3h0.01M592.3,82.3h0.01M607.8,67.5h0.01M578.4,35.4h0.01M562.6,66.5h0.01M561.9,63.5h0.01M570.0,76.9h0.01M609.8,60.3h0.01M609.6,57.5h0.01M580.9,35.6h0.01M609.1,55.8h0.01M562.0,60.4h0.01M563.5,68.4h0.01M610.4,60.0h0.01M606.1,47.4h0.01M606.9,49.6h0.01M572.0,39.1h0.01M601.4,77.4h0.01M609.4,62.9h0.01M579.2,80.3h0.01M594.7,79.9h0.01M606.2,48.6h0.01M597.6,79.8h0.01M584.6,36.2h0.01M574.4,80.4h0.01M575.0,81.4h0.01M569.9,75.8h0.01M597.3,38.0h0.01M587.4,83.4h0.01M569.0,41.3h0.01M595.7,37.4h0.01M606.8,51.1h0.01M562.2,59.5h0.01M578.4,81.5h0.01M564.0,46.6h0.01M598.3,79.6h0.01M563.0,67.2h0.01M608.8,64.6h0.01M563.1,67.7h0.01M610.7,59.1h0.01M599.0,37.9h0.01M565.3,69.0h0.01M580.8,81.6h0.01M565.3,69.7h0.01M573.6,78.1h0.01M596.9,37.1h0.01M605.6,45.0h0.01M562.8,67.2h0.01M563.9,49.5h0.01M606.6,71.1h0.01M575.9,78.4h0.01M606.2,45.5h0.01M602.8,39.5h0.01M568.5,42.6h0.01M595.0,35.6h0.01M566.9,43.3h0.01M579.2,80.0h0.01M562.7,61.5h0.01M571.5,39.8h0.01M604.1,42.5h0.01M609.6,62.9h0.01M562.1,66.8h0.01M605.9,70.7h0.01M565.3,47.4h0.01M565.8,70.2h0.01M566.8,73.1h0.01M604.2,74.8h0.01M561.6,51.2h0.01M604.2,74.4h0.01M605.1,71.9h0.01M562.3,54.1h0.01M562.4,50.5h0.01M589.2,82.0h0.01M562.0,56.7h0.01M564.8,45.7h0.01M607.4,69.5h0.01M563.0,67.8h0.01M580.6,36.1h0.01M586.8,33.2h0.01M581.2,33.8h0.01M605.1,73.2h0.01M596.7,79.2h0.01M607.7,53.0h0.01M601.0,76.4h0.01M589.7,34.6h0.01M569.0,76.0h0.01M609.1,60.9h0.01M578.4,81.2h0.01M579.7,37.0h0.01M567.9,41.7h0.01M601.3,42.6h0.01M601.7,41.8h0.01M597.5,79.5h0.01M587.7,35.5h0.01M575.5,36.9h0.01M569.2,75.6h0.01M583.7,33.8h0.01M608.4,65.1h0.01M566.1,43.7h0.01M593.7,35.6h0.01M604.6,74.9h0.01M585.0,82.1h0.01M593.6,79.9h0.01M564.5,46.8h0.01M604.0,74.6h0.01M593.2,36.0h0.01M594.9,80.1h0.01M576.6,36.8h0.01M567.5,75.6h0.01M561.4,52.7h0.01M576.6,35.9h0.01M607.9,60.6h0.01M572.3,79.1h0.01M602.9,41.1h0.01M593.3,35.6h0.01M595.7,36.9h0.01M575.7,37.7h0.01M599.0,79.2h0.01M598.5,39.9h0.01M566.7,42.8h0.01M606.7,69.6h0.01M604.8,43.7h0.01M565.1,45.8h0.01M570.3,77.1h0.01M562.9,63.4h0.01M571.4,77.4h0.01M609.0,59.6h0.01M609.1,61.7h0.01M562.4,64.8h0.01M600.2,77.6h0.01M574.4,37.8h0.01M561.2,58.7h0.01M584.0,81.7h0.01M608.4,52.4h0.01M610.5,57.5h0.01M588.9,34.8h0.01M602.4,41.4h0.01M570.5,41.6h0.01M570.3,76.6h0.01M603.2,40.7h0.01M607.6,49.8h0.01M587.7,35.4h0.01M584.2,35.9h0.01M571.6,78.0h0.01M563.2,51.3h0.01M573.2,79.2h0.01M574.7,80.9h0.01M569.7,76.4h0.01M586.7,82.6h0.01M601.9,77.2h0.01M610.1,59.8h0.01M563.7,66.5h0.01M564.1,48.8h0.01M607.9,68.5h0.01M578.2,81.0h0.01M562.0,50.8h0.01M607.0,49.9h0.01M563.8,46.1h0.01M607.0,70.4h0.01M610.4,56.8h0.01M570.7,77.5h0.01M601.4,41.7h0.01M606.1,67.9h0.01M581.8,82.4h0.01M584.5,83.0h0.01M583.0,82.5h0.01M578.9,35.6h0.01M593.3,82.1h0.01M566.1,43.9h0.01M593.3,80.5h0.01M583.2,34.0h0.01M606.5,70.0h0.01M594.6,36.0h0.01M601.0,76.4h0.01M594.2,79.5h0.01M570.7,40.6h0.01M607.0,47.5h0.01M585.6,34.2h0.01M572.1,40.2h0.01M572.9,79.6h0.01M607.9,67.1h0.01M568.9,41.6h0.01M574.1,78.5h0.01M584.6,82.6h0.01M560.8,64.5h0.01M563.6,49.3h0.01M610.5,56.8h0.01M581.8,34.8h0.01M574.1,80.0h0.01M600.8,77.5h0.01M588.4,33.8h0.01M563.9,70.1h0.01M563.3,53.1h0.01M572.8,39.1h0.01M567.0,44.8h0.01M584.5,83.6h0.01M579.9,35.4h0.01M577.5,79.8h0.01M589.2,34.3h0.01M581.5,82.1h0.01M561.7,55.2h0.01M609.4,60.0h0.01M562.8,62.2h0.01M570.8,76.1h0.01M609.7,57.1h0.01M606.9,72.1h0.01M609.4,62.9h0.01M561.6,58.4h0.01M562.6,50.3h0.01M568.8,77.7h0.01M600.1,78.4h0.01M607.7,46.9h0.01M598.9,80.1h0.01M586.8,82.8h0.01M608.4,56.2h0.01M572.4,78.5h0.01M593.0,36.6h0.01M605.5,45.0h0.01M604.3,73.7h0.01M571.3,40.0h0.01M566.1,72.6h0.01M563.9,49.4h0.01M564.2,72.3h0.01M569.6,42.2h0.01M589.6,82.3h0.01M563.3,68.6h0.01M588.5,82.8h0.01M570.1,39.1h0.01M578.4,82.0h0.01M564.1,48.6h0.01M599.4,79.4h0.01M583.2,81.4h0.01M585.9,34.5h0.01M574.2,79.1h0.01M561.6,60.9h0.01M576.0,37.1h0.01M566.9,45.5h0.01M603.6,42.5h0.01M591.8,82.3h0.01M590.1,35.7h0.01M601.7,40.2h0.01M610.9,57.9h0.01M578.6,81.9h0.01M609.3,54.9h0.01M609.9,60.1h0.01M583.6,35.1h0.01M605.7,72.8h0.01M606.7,72.0h0.01M572.4,79.8h0.01M602.9,42.9h0.01M609.9,55.6h0.01M592.0,35.5h0.01M576.5,35.7h0.01M588.5,82.6h0.01M563.9,68.9h0.01M609.6,57.3h0.01M575.9,80.8h0.01M562.1,60.6h0.01M601.1,76.4h0.01M576.2,36.6h0.01M600.0,77.8h0.01M603.2,73.7h0.01M572.2,76.4h0.01M571.7,78.1h0.01M591.2,83.5h0.01M582.9,35.3h0.01M582.2,82.6h0.01M607.9,68.9h0.01M608.0,64.9h0.01M563.3,50.4h0.01M569.5,77.7h0.01M572.0,39.0h0.01M563.7,52.5h0.01M609.1,56.1h0.01M602.4,41.8h0.01M576.1,79.8h0.01M564.2,70.7h0.01M567.8,74.4h0.01M564.2,72.4h0.01M611.6,59.6h0.01M566.7,43.4h0.01M567.6,43.5h0.01M568.6,75.4h0.01M603.9,75.0h0.01M599.1,38.5h0.01M607.0,65.5h0.01M577.7,36.7h0.01M562.0,51.2h0.01M576.1,80.6h0.01M585.1,34.8h0.01M599.6,40.4h0.01M609.5,57.9h0.01M588.0,81.7h0.01M569.0,74.6h0.01M580.2,36.1h0.01M567.1,42.8h0.01M575.3,37.7h0.01M561.8,52.1h0.01M589.6,81.8h0.01M605.5,45.9h0.01M562.3,62.7h0.01M562.9,62.1h0.01M590.2,83.2h0.01M560.9,54.2h0.01M563.4,55.3h0.01M587.4,82.3h0.01M597.1,80.1h0.01M571.0,40.8h0.01M597.4,36.6h0.01M607.9,64.9h0.01M567.7,75.4h0.01M602.0,74.6h0.01M599.3,78.4h0.01M570.6,77.7h0.01M593.3,36.9h0.01M605.9,71.2h0.01M565.9,74.0h0.01M563.0,66.2h0.01M561.7,62.0h0.01M599.1,77.1h0.01M575.8,37.6h0.01M587.6,83.2h0.01M569.5,75.8h0.01M610.0,61.4h0.01M592.9,81.3h0.01M596.0,80.1h0.01M581.0,35.4h0.01M587.0,83.2h0.01M598.2,37.3h0.01M601.2,39.7h0.01M592.5,80.4h0.01M567.6,42.2h0.01M568.6,76.5h0.01M569.5,76.6h0.01M580.2,35.7h0.01M571.0,39.0h0.01M594.5,36.9h0.01M564.2,47.1h0.01M607.6,47.5h0.01M579.6,33.7h0.01M569.3,75.6h0.01M606.8,68.7h0.01M586.6,35.5h0.01M561.2,59.2h0.01M605.2,44.8h0.01M565.9,45.6h0.01M563.8,64.0h0.01M564.9,71.0h0.01M561.5,62.7h0.01M562.3,60.0h0.01M561.4,56.9h0.01M584.3,35.8h0.01M565.4,73.2h0.01M562.9,50.7h0.01M588.6,34.9h0.01M590.0,81.8h0.01M607.0,69.9h0.01M605.8,71.1h0.01M586.2,35.0h0.01M575.7,37.1h0.01M580.0,35.7h0.01M577.0,36.4h0.01M566.8,69.4h0.01M594.9,38.0h0.01M602.5,41.2h0.01M561.4,55.9h0.01M610.2,59.6h0.01M583.9,82.5h0.01M576.5,80.7h0.01M561.9,50.0h0.01M562.1,57.1h0.01M577.6,81.3h0.01M602.0,40.6h0.01M584.7,81.2h0.01M593.0,82.3h0.01M568.7,75.9h0.01M563.3,63.8h0.01M569.8,76.6h0.01M593.4,35.6h0.01M561.8,49.9h0.01M608.0,66.1h0.01M564.9,72.1h0.01M564.0,49.3h0.01M592.7,35.3h0.01M579.6,81.5h0.01M566.7,46.3h0.01M562.1,65.6h0.01M602.7,42.3h0.01M607.2,66.8h0.01M608.9,66.1h0.01M601.8,39.9h0.01M596.0,80.7h0.01M605.8,48.1h0.01M562.3,59.0h0.01M574.8,37.7h0.01M591.4,81.4h0.01M598.8,37.6h0.01M592.4,83.0h0.01M605.8,73.5h0.01M609.1,51.2h0.01M565.4,70.8h0.01M605.2,45.6h0.01M576.3,36.6h0.01M577.6,36.0h0.01M609.1,65.0h0.01M588.2,81.9h0.01M565.2,47.1h0.01M599.7,79.1h0.01M605.5,46.5h0.01M600.2,79.2h0.01M593.2,35.3h0.01M609.0,63.6h0.01M568.5,74.8h0.01M563.2,52.0h0.01M604.6,71.3h0.01M563.9,69.0h0.01M574.9,36.2h0.01M603.5,75.9h0.01M608.4,46.8h0.01M562.2,54.8h0.01M579.8,81.2h0.01M560.8,59.2h0.01M607.9,48.2h0.01M601.7,40.3h0.01M566.4,45.1h0.01M600.9,77.0h0.01M582.4,83.5h0.01M589.0,81.5h0.01M607.8,47.4h0.01M609.3,53.8h0.01M571.8,79.3h0.01M608.1,66.0h0.01M574.0,79.0h0.01M584.5,34.7h0.01M596.1,80.4h0.01M606.8,68.5h0.01M562.7,49.7h0.01M591.5,35.0h0.01M566.1,45.3h0.01M561.8,56.7h0.01M605.1,72.3h0.01M564.9,47.6h0.01M571.8,77.2h0.01M598.4,79.8h0.01M597.5,80.1h0.01M598.7,38.9h0.01M602.1,41.9h0.01M605.6,72.0h0.01M603.5,41.8h0.01M561.9,53.2h0.01M603.1,74.5h0.01M562.3,53.4h0.01M562.1,57.7h0.01M565.7,72.5h0.01M592.7,81.9h0.01M602.5,41.2h0.01M561.7,58.4h0.01M608.0,50.4h0.01M561.6,60.5h0.01M577.1,37.4h0.01M588.8,82.4h0.01M583.6,82.1h0.01M608.5,63.2h0.01M579.3,82.3h0.01M604.8,43.0h0.01M588.2,83.0h0.01M565.8,45.1h0.01M606.8,67.4h0.01M586.3,80.9h0.01M607.6,64.5h0.01M568.4,42.9h0.01M573.3,77.7h0.01M594.0,38.0h0.01M609.9,60.3h0.01M607.4,50.2h0.01M606.4,71.5h0.01M586.5,82.5h0.01M599.0,77.3h0.01M572.2,78.8h0.01M590.3,82.5h0.01M572.9,81.7h0.01M591.8,36.0h0.01M563.2,61.6h0.01M605.7,45.6h0.01M585.9,35.1h0.01M569.1,42.0h0.01M599.3,38.9h0.01M580.9,35.6h0.01M571.2,78.9h0.01M573.8,36.2h0.01M585.0,33.9h0.01M608.7,49.1h0.01M605.4,45.3h0.01M593.0,37.4h0.01M566.6,46.5h0.01M590.9,34.8h0.01M601.8,41.8h0.01M560.6,53.6h0.01M609.6,50.3h0.01M591.6,34.2h0.01M585.4,82.9h0.01M593.2,80.9h0.01M562.6,65.0h0.01M606.4,45.2h0.01M576.3,36.9h0.01M590.6,36.0h0.01M592.0,36.4h0.01M595.9,38.8h0.01M565.1,72.5h0.01M598.3,37.8h0.01M573.6,78.0h0.01M591.9,36.4h0.01M609.5,59.4h0.01M604.1,74.0h0.01M594.5,37.4h0.01M562.2,65.1h0.01M573.4,79.4h0.01M599.4,38.4h0.01M568.3,42.5h0.01M582.5,82.7h0.01M578.8,36.9h0.01M594.2,36.0h0.01M603.0,75.1h0.01M596.2,37.4h0.01M595.2,80.4h0.01M569.0,78.3h0.01M589.7,83.0h0.01M604.0,44.3h0.01M568.3,72.3h0.01M561.8,57.7h0.01M610.0,56.9h0.01M598.9,80.1h0.01M561.7,54.6h0.01M608.2,50.6h0.01M562.6,65.5h0.01M571.7,77.4h0.01M603.9,72.1h0.01M562.4,56.7h0.01M567.6,76.4h0.01M574.0,38.6h0.01M606.4,69.4h0.01M608.2,52.6h0.01M570.6,76.5h0.01M569.3,74.9h0.01M562.7,55.5h0.01M563.2,59.0h0.01M569.9,76.9h0.01M597.8,38.1h0.01M576.3,37.5h0.01M585.9,35.1h0.01M604.1,43.7h0.01M607.9,63.7h0.01M574.3,81.0h0.01M605.3,42.8h0.01M599.9,76.9h0.01M608.1,65.5h0.01M567.1,73.7h0.01M581.3,81.1h0.01M587.5,35.1h0.01M563.9,70.5h0.01M608.6,55.5h0.01M575.5,38.2h0.01M567.4,75.8h0.01M577.1,36.7h0.01M581.5,82.7h0.01M597.0,36.8h0.01M592.1,35.9h0.01M561.6,56.3h0.01M603.3,41.6h0.01M597.6,80.6h0.01M576.4,81.3h0.01M567.8,74.9h0.01M609.5,53.7h0.01M577.0,80.9h0.01M608.3,50.4h0.01M563.0,68.0h0.01M604.2,73.7h0.01M567.2,74.9h0.01M608.9,53.3h0.01M606.2,45.5h0.01M562.5,66.2h0.01M589.8,36.0h0.01M576.0,81.3h0.01M561.2,63.3h0.01M563.9,50.3h0.01M582.1,81.3h0.01M569.7,77.4h0.01M580.1,81.5h0.01M569.4,41.3h0.01M610.0,65.2h0.01M596.5,38.1h0.01M607.7,50.0h0.01M583.4,82.5h0.01M562.6,51.4h0.01M586.3,35.1h0.01M593.9,37.0h0.01M603.7,73.8h0.01M610.0,53.6h0.01M570.1,41.2h0.01M567.8,72.7h0.01M607.9,50.0h0.01M567.6,73.2h0.01M593.8,36.5h0.01M602.5,41.2h0.01M563.3,54.2h0.01M605.1,44.9h0.01M601.6,76.4h0.01M565.1,71.2h0.01M561.2,58.4h0.01M565.4,47.9h0.01M566.5,72.0h0.01M599.0,39.1h0.01M591.5,35.3h0.01M574.6,38.0h0.01M586.3,36.3h0.01M604.9,44.5h0.01M584.6,34.4h0.01M602.3,42.8h0.01M601.7,76.0h0.01M568.3,43.9h0.01M581.8,83.2h0.01M596.6,37.0h0.01M582.2,82.5h0.01M606.0,72.3h0.01M574.4,36.2h0.01M570.6,77.0h0.01M577.8,34.8h0.01M574.6,80.5h0.01M609.3,59.2h0.01M582.0,82.0h0.01M607.2,67.1h0.01M594.2,36.0h0.01M609.0,64.6h0.01M589.5,82.0h0.01M569.5,41.6h0.01M563.5,48.5h0.01M590.5,82.2h0.01M598.2,38.9h0.01M594.3,36.6h0.01M589.9,35.2h0.01M608.5,62.8h0.01M607.7,67.9h0.01M569.4,41.4h0.01M567.1,72.2h0.01M562.3,56.9h0.01M601.6,41.2h0.01M610.2,58.0h0.01M575.1,78.2h0.01M610.2,56.6h0.01M601.9,76.8h0.01M563.2,65.4h0.01M563.8,65.1h0.01M572.5,79.0h0.01M580.7,82.8h0.01M593.9,81.1h0.01M564.4,67.4h0.01M593.4,81.2h0.01M583.4,82.0h0.01M564.0,50.1h0.01M585.4,36.6h0.01M609.3,50.8h0.01M581.3,35.8h0.01M607.8,67.9h0.01M601.4,40.5h0.01M581.6,35.5h0.01M571.3,77.2h0.01M597.3,77.9h0.01M578.1,79.6h0.01M609.0,65.3h0.01M605.4,44.2h0.01M593.6,36.5h0.01M604.5,73.6h0.01M599.4,78.5h0.01M608.8,57.3h0.01M606.2,46.0h0.01M595.8,37.9h0.01M602.7,76.5h0.01M561.2,57.5h0.01M591.7,81.8h0.01M605.9,45.7h0.01M579.3,33.7h0.01M564.3,67.7h0.01M583.2,35.9h0.01M599.2,37.9h0.01M602.0,76.9h0.01M565.1,46.5h0.01M567.4,76.1h0.01M591.1,35.3h0.01M561.0,64.4h0.01M562.0,53.5h0.01M606.9,68.8h0.01M604.3,42.3h0.01M562.2,61.0h0.01M586.7,82.2h0.01M605.3,45.5h0.01M565.4,45.6h0.01M602.6,75.9h0.01M564.5,46.1h0.01M570.2,40.8h0.01M606.8,68.2h0.01M581.8,34.4h0.01M566.1,72.9h0.01M574.6,37.7h0.01M571.9,39.8h0.01M577.3,36.7h0.01M605.9,45.7h0.01M565.9,44.5h0.01M609.7,56.7h0.01M588.8,81.4h0.01M596.7,36.6h0.01M569.8,40.9h0.01M605.4,71.9h0.01M609.4,55.1h0.01M608.3,65.8h0.01M587.2,83.0h0.01M574.5,37.8h0.01M606.4,49.0h0.01M583.9,81.3h0.01M600.0,79.3h0.01M604.8,73.3h0.01M609.1,54.7h0.01M593.9,36.7h0.01M598.0,78.8h0.01M591.2,35.5h0.01M604.1,43.4h0.01M599.9,39.5h0.01M562.9,50.4h0.01M568.8,42.9h0.01M565.8,45.3h0.01M608.0,66.6h0.01M562.9,52.0h0.01M610.3,59.9h0.01M584.9,33.5h0.01M594.8,36.4h0.01M561.9,65.1h0.01M592.3,82.4h0.01M562.8,69.7h0.01M561.6,51.5h0.01M570.8,78.6h0.01M600.1,38.8h0.01M599.9,38.8h0.01M577.8,81.7h0.01M587.6,34.3h0.01M610.2,55.4h0.01M588.5,34.7h0.01M603.8,74.4h0.01M577.5,37.0h0.01M563.2,65.1h0.01M566.4,71.4h0.01M605.8,47.1h0.01M583.1,34.5h0.01M597.4,39.6h0.01M580.5,34.3h0.01M599.9,39.2h0.01M563.7,68.9h0.01M607.8,50.4h0.01M563.5,67.2h0.01M578.4,80.9h0.01M571.9,78.1h0.01M563.1,67.2h0.01M608.5,55.9h0.01M587.4,36.2h0.01M598.7,37.2h0.01M582.1,82.3h0.01M585.7,82.5h0.01M588.6,82.5h0.01M604.2,42.7h0.01M588.7,35.3h0.01M589.6,34.1h0.01M563.1,54.1h0.01M604.8,73.5h0.01M569.4,42.0h0.01M570.9,75.1h0.01M598.1,78.6h0.01M562.8,54.2h0.01M607.1,49.9h0.01M564.9,72.3h0.01M608.5,54.0h0.01M606.0,71.5h0.01M606.1,45.1h0.01M609.4,60.7h0.01M610.7,57.1h0.01" fill="none" stroke="#e9ac22" stroke-width="0.7" stroke-linecap="round" opacity="0.75"/>
<text x="12.8" y="43.5" font-size="13" text-anchor="start" fill="#111" stroke="#111" stroke-width="0.22" font-weight="bold" textLength="10.4" lengthAdjust="spacingAndGlyphs" >a)</text>
<text x="10.5" y="73.6" font-size="9.6" text-anchor="start" fill="#111" stroke="#111" stroke-width="0.22" textLength="64.5" lengthAdjust="spacingAndGlyphs" >Receptive field</text>
<text x="73.6" y="97.2" font-size="9.6" text-anchor="start" fill="#111" stroke="#111" stroke-width="0.22" textLength="50.0" lengthAdjust="spacingAndGlyphs" >Focal plane</text>
<text x="174.2" y="37.0" font-size="9.6" text-anchor="start" fill="#111" stroke="#111" stroke-width="0.22" textLength="46.2" lengthAdjust="spacingAndGlyphs" >ON events</text>
<text x="476.7" y="37.0" font-size="9.6" text-anchor="start" fill="#111" stroke="#111" stroke-width="0.22" textLength="51.3" lengthAdjust="spacingAndGlyphs" >OFF events</text>
<path d="M15.8,76.3 H79" fill="none" stroke="#777" stroke-width="0.8"/>
<path d="M78.6,76.3 L90.2,66.6" fill="none" stroke="#111" stroke-width="0.85"/>
<path d="M92.0,65.2 L87.0,66.5 L89.6,69.6 Z" fill="#111"/>
<path d="M150.0,46.2 L175,39.3 H253.2 L259.4,45.4" fill="none" stroke="#111" stroke-width="0.85"/>
<path d="M148.1,46.6 L152.6,43.8 L153.4,47.2 Z" fill="#111"/>
<path d="M261.2,47.0 L256.2,45.6 L258.8,42.6 Z" fill="#111"/>
<path d="M449.2,46.2 L465.4,40.0 H555.6 L562.6,42.9" fill="none" stroke="#111" stroke-width="0.85"/>
<path d="M447.4,47.0 L451.4,43.3 L452.7,46.9 Z" fill="#111"/>
<path d="M564.6,43.7 L559.6,43.8 L560.9,40.2 Z" fill="#111"/>
</g>
<text x="12.8" y="122.0" font-size="13" text-anchor="start" fill="#111" stroke="#111" stroke-width="0.22" font-weight="bold" textLength="10.6" lengthAdjust="spacingAndGlyphs" >b)</text>
<g id="panel-b" font-family="Liberation Sans, DejaVu Sans, sans-serif">
<g transform="translate(0.0,0)">
<path d="M107.9,115.9 C116,115 119.5,109 123.3,104 C127.5,98.6 131.5,94.8 140,94.7 C160,94.7 185,110.5 205.3,128.4" fill="none" stroke="#161616" stroke-width="1.3"/>
<line x1="204.2" y1="130.2" x2="206.9" y2="127.7" stroke="#161616" stroke-width="1.1"/>
<path d="M107.9,152.8 C116,153.7 119.5,159.7 123.3,164.7 C127.5,170.1 131.5,173.9 140,174.0 C160,174.0 185,158.2 205.3,140.3" fill="none" stroke="#161616" stroke-width="1.3"/>
<line x1="204.2" y1="139.0" x2="206.9" y2="141.5" stroke="#161616" stroke-width="1.1"/>
<line x1="108.2" y1="119.8" x2="151.7" y2="119.8" stroke="#161616" stroke-width="1.2"/>
<line x1="151.7" y1="117.8" x2="151.7" y2="121.8" stroke="#161616" stroke-width="1.1"/>
<line x1="108.2" y1="149.2" x2="151.7" y2="149.2" stroke="#161616" stroke-width="1.2"/>
<line x1="151.7" y1="147.2" x2="151.7" y2="151.2" stroke="#161616" stroke-width="1.1"/>
<line x1="108.2" y1="120.6" x2="150.4" y2="143.8" stroke="#161616" stroke-width="1.3" stroke-dasharray="7.0 2.9 1.3 2.9"/>
<line x1="108.2" y1="148.2" x2="150.4" y2="125.0" stroke="#161616" stroke-width="1.3" stroke-dasharray="7.0 2.9 1.3 2.9"/>
<circle cx="151.4" cy="144.4" r="1.6" fill="#fff" stroke="#161616" stroke-width="1.0"/>
<circle cx="151.4" cy="124.5" r="1.6" fill="#fff" stroke="#161616" stroke-width="1.0"/>
<line x1="167.8" y1="119.9" x2="201.6" y2="133.6" stroke="#161616" stroke-width="1.3" stroke-dasharray="7.0 2.9 1.3 2.9"/>
<line x1="167.8" y1="148.9" x2="201.6" y2="138.3" stroke="#161616" stroke-width="1.3" stroke-dasharray="7.0 2.9 1.3 2.9"/>
<circle cx="203.0" cy="134.0" r="1.6" fill="#fff" stroke="#161616" stroke-width="1.0"/>
<circle cx="203.0" cy="137.9" r="1.6" fill="#fff" stroke="#161616" stroke-width="1.0"/>
<path d="M108.6,200.6 C160,200 204,191 211.6,145.4" fill="none" stroke="#161616" stroke-width="1.3" stroke-dasharray="7.0 2.9 1.3 2.9"/>
<circle cx="211.7" cy="143.9" r="1.65" fill="#fff" stroke="#161616" stroke-width="1.0"/>
<path d="M216.3,127.0 L221.5,122.2 L216.8,117.5 L214.0,119.3 L212.6,123.5" fill="none" stroke="#161616" stroke-width="1.15" stroke-linejoin="miter"/>
<path d="M211.8,127.6 L210.9,121.2 L214.9,122.6 Z" fill="#161616"/>
<circle cx="100.7" cy="119.6" r="7.15" fill="#fff" stroke="#e6842c" stroke-width="1.3"/>
<text x="100.7" y="121.6" font-size="6.0" text-anchor="middle" font-style="italic" fill="#000" font-weight="bold">ON</text>
<circle cx="100.7" cy="149.1" r="7.15" fill="#fff" stroke="#f2b632" stroke-width="1.3"/>
<text x="100.7" y="151.1" font-size="5.6" text-anchor="middle" font-style="italic" fill="#000">OFF</text>
<circle cx="159.9" cy="119.6" r="7.3" fill="#fff" stroke="#3c9ddc" stroke-width="1.3"/>
<text x="159.9" y="118.1" font-size="5.6" text-anchor="middle" font-style="italic" fill="#000">B</text>
<text x="159.5" y="124.2" font-size="5.6" text-anchor="middle" font-style="italic" fill="#000">on</text>
<circle cx="159.9" cy="149.1" r="7.3" fill="#fff" stroke="#78b74b" stroke-width="1.3"/>
<text x="159.9" y="147.6" font-size="5.6" text-anchor="middle" font-style="italic" fill="#000">B</text>
<text x="159.5" y="153.7" font-size="5.6" text-anchor="middle" font-style="italic" fill="#000">off</text>
<circle cx="212.3" cy="134.6" r="6.9" fill="#fff" stroke="#161616" stroke-width="1.2"/>
<text x="212.3" y="136.6" font-size="6.1" text-anchor="middle" font-style="italic" fill="#000">OUT</text>
<circle cx="100.9" cy="200.7" r="7.0" fill="#fff" stroke="#161616" stroke-width="1.2"/>
<text x="100.9" y="202.7" font-size="5.3" text-anchor="middle" font-style="italic" fill="#000">Sync</text>
</g>
<g transform="translate(156.9,0)">
<path d="M107.9,152.8 C116,153.7 119.5,159.7 123.3,164.7 C127.5,170.1 131.5,173.9 140,174.0 C160,174.0 185,158.2 205.3,140.3" fill="none" stroke="#161616" stroke-width="1.3"/>
<line x1="204.2" y1="139.0" x2="206.9" y2="141.5" stroke="#161616" stroke-width="1.1"/>
<line x1="108.2" y1="119.8" x2="151.7" y2="119.8" stroke="#161616" stroke-width="1.2"/>
<line x1="151.7" y1="117.8" x2="151.7" y2="121.8" stroke="#161616" stroke-width="1.1"/>
<line x1="108.2" y1="149.2" x2="151.7" y2="149.2" stroke="#161616" stroke-width="1.2"/>
<line x1="151.7" y1="147.2" x2="151.7" y2="151.2" stroke="#161616" stroke-width="1.1"/>
<line x1="108.2" y1="120.6" x2="150.4" y2="143.8" stroke="#161616" stroke-width="1.3" stroke-dasharray="7.0 2.9 1.3 2.9"/>
<line x1="108.2" y1="148.2" x2="150.4" y2="125.0" stroke="#161616" stroke-width="1.3" stroke-dasharray="7.0 2.9 1.3 2.9"/>
<circle cx="151.4" cy="144.4" r="1.6" fill="#fff" stroke="#161616" stroke-width="1.0"/>
<circle cx="151.4" cy="124.5" r="1.6" fill="#fff" stroke="#161616" stroke-width="1.0"/>
<line x1="167.8" y1="119.9" x2="201.6" y2="133.6" stroke="#161616" stroke-width="1.3" stroke-dasharray="7.0 2.9 1.3 2.9"/>
<line x1="167.8" y1="148.9" x2="201.6" y2="138.3" stroke="#161616" stroke-width="1.3" stroke-dasharray="7.0 2.9 1.3 2.9"/>
<circle cx="203.0" cy="134.0" r="1.6" fill="#fff" stroke="#161616" stroke-width="1.0"/>
<circle cx="203.0" cy="137.9" r="1.6" fill="#fff" stroke="#161616" stroke-width="1.0"/>
<path d="M108.6,200.6 C160,200 204,191 211.6,145.4" fill="none" stroke="#161616" stroke-width="1.3" stroke-dasharray="7.0 2.9 1.3 2.9"/>
<circle cx="211.7" cy="143.9" r="1.65" fill="#fff" stroke="#161616" stroke-width="1.0"/>
<path d="M216.3,127.0 L221.5,122.2 L216.8,117.5 L214.0,119.3 L212.6,123.5" fill="none" stroke="#161616" stroke-width="1.15" stroke-linejoin="miter"/>
<path d="M211.8,127.6 L210.9,121.2 L214.9,122.6 Z" fill="#161616"/>
<circle cx="100.7" cy="119.6" r="7.15" fill="#fff" stroke="#e6842c" stroke-width="1.3"/>
<text x="100.7" y="121.6" font-size="6.0" text-anchor="middle" font-style="italic" fill="#000" font-weight="bold">ON</text>
<circle cx="100.7" cy="149.1" r="7.15" fill="#fff" stroke="#f2b632" stroke-width="1.3"/>
<text x="100.7" y="151.1" font-size="5.6" text-anchor="middle" font-style="italic" fill="#000">OFF</text>
<circle cx="159.9" cy="119.6" r="7.3" fill="#fff" stroke="#3c9ddc" stroke-width="1.3"/>
<text x="159.9" y="118.1" font-size="5.6" text-anchor="middle" font-style="italic" fill="#000" font-weight="bold">B</text>
<text x="159.5" y="124.2" font-size="5.6" text-anchor="middle" font-style="italic" fill="#000" font-weight="bold">on</text>
<circle cx="159.9" cy="149.1" r="7.3" fill="#fff" stroke="#78b74b" stroke-width="1.3"/>
<text x="159.9" y="147.6" font-size="5.6" text-anchor="middle" font-style="italic" fill="#000">B</text>
<text x="159.5" y="153.7" font-size="5.6" text-anchor="middle" font-style="italic" fill="#000">off</text>
<circle cx="212.3" cy="134.6" r="6.9" fill="#fff" stroke="#161616" stroke-width="1.2"/>
<text x="212.3" y="136.6" font-size="6.1" text-anchor="middle" font-style="italic" fill="#000">OUT</text>
<circle cx="100.9" cy="200.7" r="7.0" fill="#fff" stroke="#161616" stroke-width="1.2"/>
<text x="100.9" y="202.7" font-size="5.3" text-anchor="middle" font-style="italic" fill="#000">Sync</text>
</g>
<g transform="translate(313.7,0)">
<path d="M107.9,115.9 C116,115 119.5,109 123.3,104 C127.5,98.6 131.5,94.8 140,94.7 C160,94.7 185,110.5 205.3,128.4" fill="none" stroke="#161616" stroke-width="1.3"/>
<line x1="204.2" y1="130.2" x2="206.9" y2="127.7" stroke="#161616" stroke-width="1.1"/>
<path d="M107.9,152.8 C116,153.7 119.5,159.7 123.3,164.7 C127.5,170.1 131.5,173.9 140,174.0 C160,174.0 185,158.2 205.3,140.3" fill="none" stroke="#161616" stroke-width="1.3"/>
<line x1="204.2" y1="139.0" x2="206.9" y2="141.5" stroke="#161616" stroke-width="1.1"/>
<line x1="108.2" y1="119.8" x2="151.7" y2="119.8" stroke="#161616" stroke-width="1.2"/>
<line x1="151.7" y1="117.8" x2="151.7" y2="121.8" stroke="#161616" stroke-width="1.1"/>
<line x1="108.2" y1="149.2" x2="151.7" y2="149.2" stroke="#161616" stroke-width="1.2"/>
<line x1="151.7" y1="147.2" x2="151.7" y2="151.2" stroke="#161616" stroke-width="1.1"/>
<line x1="108.2" y1="120.6" x2="150.4" y2="143.8" stroke="#161616" stroke-width="1.3" stroke-dasharray="7.0 2.9 1.3 2.9"/>
<line x1="108.2" y1="148.2" x2="150.4" y2="125.0" stroke="#161616" stroke-width="1.3" stroke-dasharray="7.0 2.9 1.3 2.9"/>
<circle cx="151.4" cy="144.4" r="1.6" fill="#fff" stroke="#161616" stroke-width="1.0"/>
<circle cx="151.4" cy="124.5" r="1.6" fill="#fff" stroke="#161616" stroke-width="1.0"/>
<line x1="167.8" y1="119.9" x2="201.6" y2="133.6" stroke="#161616" stroke-width="1.3" stroke-dasharray="7.0 2.9 1.3 2.9"/>
<line x1="167.8" y1="148.9" x2="201.6" y2="138.3" stroke="#161616" stroke-width="1.3" stroke-dasharray="7.0 2.9 1.3 2.9"/>
<circle cx="203.0" cy="134.0" r="1.6" fill="#fff" stroke="#161616" stroke-width="1.0"/>
<circle cx="203.0" cy="137.9" r="1.6" fill="#fff" stroke="#161616" stroke-width="1.0"/>
<path d="M108.6,200.6 C160,200 204,191 211.6,145.4" fill="none" stroke="#161616" stroke-width="1.3" stroke-dasharray="7.0 2.9 1.3 2.9"/>
<circle cx="211.7" cy="143.9" r="1.65" fill="#fff" stroke="#161616" stroke-width="1.0"/>
<path d="M216.3,127.0 L221.5,122.2 L216.8,117.5 L214.0,119.3 L212.6,123.5" fill="none" stroke="#161616" stroke-width="1.15" stroke-linejoin="miter"/>
<path d="M211.8,127.6 L210.9,121.2 L214.9,122.6 Z" fill="#161616"/>
<circle cx="100.7" cy="119.6" r="7.15" fill="#fff" stroke="#e6842c" stroke-width="1.3"/>
<text x="100.7" y="121.6" font-size="6.0" text-anchor="middle" font-style="italic" fill="#000">ON</text>
<circle cx="100.7" cy="149.1" r="7.15" fill="#fff" stroke="#f2b632" stroke-width="1.3"/>
<text x="100.7" y="151.1" font-size="5.6" text-anchor="middle" font-style="italic" fill="#000" font-weight="bold">OFF</text>
<circle cx="159.9" cy="119.6" r="7.3" fill="#fff" stroke="#3c9ddc" stroke-width="1.3"/>
<text x="159.9" y="118.1" font-size="5.6" text-anchor="middle" font-style="italic" fill="#000">B</text>
<text x="159.5" y="124.2" font-size="5.6" text-anchor="middle" font-style="italic" fill="#000">on</text>
<circle cx="159.9" cy="149.1" r="7.3" fill="#fff" stroke="#78b74b" stroke-width="1.3"/>
<text x="159.9" y="147.6" font-size="5.6" text-anchor="middle" font-style="italic" fill="#000">B</text>
<text x="159.5" y="153.7" font-size="5.6" text-anchor="middle" font-style="italic" fill="#000">off</text>
<circle cx="212.3" cy="134.6" r="6.9" fill="#fff" stroke="#161616" stroke-width="1.2"/>
<text x="212.3" y="136.6" font-size="6.1" text-anchor="middle" font-style="italic" fill="#000" font-weight="bold">OUT</text>
<circle cx="100.9" cy="200.7" r="7.0" fill="#fff" stroke="#161616" stroke-width="1.2"/>
<text x="100.9" y="202.7" font-size="5.3" text-anchor="middle" font-style="italic" fill="#000">Sync</text>
</g>
<g transform="translate(463.8,0)">
<path d="M107.9,115.9 C116,115 119.5,109 123.3,104 C127.5,98.6 131.5,94.8 140,94.7 C160,94.7 185,110.5 205.3,128.4" fill="none" stroke="#161616" stroke-width="1.3"/>
<line x1="204.2" y1="130.2" x2="206.9" y2="127.7" stroke="#161616" stroke-width="1.1"/>
<path d="M107.9,152.8 C116,153.7 119.5,159.7 123.3,164.7 C127.5,170.1 131.5,173.9 140,174.0 C160,174.0 185,158.2 205.3,140.3" fill="none" stroke="#161616" stroke-width="1.3"/>
<line x1="204.2" y1="139.0" x2="206.9" y2="141.5" stroke="#161616" stroke-width="1.1"/>
<line x1="108.2" y1="119.8" x2="151.7" y2="119.8" stroke="#161616" stroke-width="1.2"/>
<line x1="151.7" y1="117.8" x2="151.7" y2="121.8" stroke="#161616" stroke-width="1.1"/>
<line x1="108.2" y1="149.2" x2="151.7" y2="149.2" stroke="#161616" stroke-width="1.2"/>
<line x1="151.7" y1="147.2" x2="151.7" y2="151.2" stroke="#161616" stroke-width="1.1"/>
<line x1="108.2" y1="120.6" x2="150.4" y2="143.8" stroke="#161616" stroke-width="1.3" stroke-dasharray="7.0 2.9 1.3 2.9"/>
<line x1="108.2" y1="148.2" x2="150.4" y2="125.0" stroke="#161616" stroke-width="1.3" stroke-dasharray="7.0 2.9 1.3 2.9"/>
<circle cx="151.4" cy="144.4" r="1.6" fill="#fff" stroke="#161616" stroke-width="1.0"/>
<circle cx="151.4" cy="124.5" r="1.6" fill="#fff" stroke="#161616" stroke-width="1.0"/>
<line x1="167.8" y1="119.9" x2="201.6" y2="133.6" stroke="#161616" stroke-width="1.3" stroke-dasharray="7.0 2.9 1.3 2.9"/>
<line x1="167.8" y1="148.9" x2="201.6" y2="138.3" stroke="#161616" stroke-width="1.3" stroke-dasharray="7.0 2.9 1.3 2.9"/>
<circle cx="203.0" cy="134.0" r="1.6" fill="#fff" stroke="#161616" stroke-width="1.0"/>
<circle cx="203.0" cy="137.9" r="1.6" fill="#fff" stroke="#161616" stroke-width="1.0"/>
<path d="M108.6,200.6 C160,200 204,191 211.6,145.4" fill="none" stroke="#161616" stroke-width="1.3" stroke-dasharray="7.0 2.9 1.3 2.9"/>
<circle cx="211.7" cy="143.9" r="1.65" fill="#fff" stroke="#161616" stroke-width="1.0"/>
<path d="M216.3,127.0 L221.5,122.2 L216.8,117.5 L214.0,119.3 L212.6,123.5" fill="none" stroke="#161616" stroke-width="1.15" stroke-linejoin="miter"/>
<path d="M211.8,127.6 L210.9,121.2 L214.9,122.6 Z" fill="#161616"/>
<circle cx="100.7" cy="119.6" r="7.15" fill="#fff" stroke="#e6842c" stroke-width="1.3"/>
<text x="100.7" y="121.6" font-size="6.0" text-anchor="middle" font-style="italic" fill="#000">ON</text>
<circle cx="100.7" cy="149.1" r="7.15" fill="#fff" stroke="#f2b632" stroke-width="1.3"/>
<text x="100.7" y="151.1" font-size="5.6" text-anchor="middle" font-style="italic" fill="#000" font-weight="bold">OFF</text>
<circle cx="159.9" cy="119.6" r="7.3" fill="#fff" stroke="#3c9ddc" stroke-width="1.3"/>
<text x="159.9" y="118.1" font-size="5.6" text-anchor="middle" font-style="italic" fill="#000">B</text>
<text x="159.5" y="124.2" font-size="5.6" text-anchor="middle" font-style="italic" fill="#000">on</text>
<circle cx="159.9" cy="149.1" r="7.3" fill="#fff" stroke="#78b74b" stroke-width="1.3"/>
<text x="159.9" y="147.6" font-size="5.6" text-anchor="middle" font-style="italic" fill="#000" font-weight="bold">B</text>
<text x="159.5" y="153.7" font-size="5.6" text-anchor="middle" font-style="italic" fill="#000" font-weight="bold">off</text>
<circle cx="212.3" cy="134.6" r="6.9" fill="#fff" stroke="#161616" stroke-width="1.2"/>
<text x="212.3" y="136.6" font-size="6.1" text-anchor="middle" font-style="italic" fill="#000">OUT</text>
<circle cx="100.9" cy="200.7" r="7.0" fill="#fff" stroke="#161616" stroke-width="1.2"/>
<text x="100.9" y="202.7" font-size="5.3" text-anchor="middle" font-style="italic" fill="#000">Sync</text>
</g>
</g>
<g id="edge-legend">
<line x1="610.2" y1="219.6" x2="628" y2="219.6" stroke="#222" stroke-width="1.05"/>
<path d="M630.4,219.6 L626.2,217.9 L626.2,221.3 Z" fill="#222"/>
<line x1="610.2" y1="228.2" x2="628.8" y2="228.2" stroke="#222" stroke-width="1.05"/>
<line x1="628.8" y1="225.5" x2="628.8" y2="230.9" stroke="#222" stroke-width="1.05"/>
<line x1="610.2" y1="237.3" x2="626.6" y2="237.3" stroke="#222" stroke-width="1.05"/>
<circle cx="628.1" cy="237.3" r="1.5" fill="#fff" stroke="#222" stroke-width="1.05"/>
<text x="636.0" y="221.7" font-size="6.5" text-anchor="start" fill="#111" stroke="#111" stroke-width="0.22" textLength="46.0" lengthAdjust="spacingAndGlyphs" >Self excitation</text>
<text x="636.4" y="230.1" font-size="6.5" text-anchor="start" fill="#111" stroke="#111" stroke-width="0.22" textLength="32.6" lengthAdjust="spacingAndGlyphs" >Excitation</text>
<text x="636.4" y="239.3" font-size="6.5" text-anchor="start" fill="#111" stroke="#111" stroke-width="0.22" textLength="31.6" lengthAdjust="spacingAndGlyphs" >Inhibition</text>
</g>
<g id="links" fill="none" stroke="#9a9a9a" stroke-width="0.7">
<path d="M155.5,209.2 C175,214.5 200,216.5 216,219.5 C238,224 249.8,238 249.8,259.5"/>
<path d="M319.3,198.8 C319.6,214 308,220.5 297,224 C278,230 265,238 264.8,259.5"/>
<path d="M465.8,205 C465.5,215 455,220.5 436,223.5 C410,227.5 370,228.5 345,232.5 C318,237 301,246 295,263"/>
<path d="M599,206 C590,224 560,235 505.7,238.4 C470,240.6 420,240 390,241.5 C350,243.5 320,249 310.2,263"/>
</g>
<path d="M249.8,263.4 L248.0,258.2 L251.60000000000002,258.2 Z" fill="#9a9a9a"/>
<path d="M264.8,263.4 L263.0,258.2 L266.6,258.2 Z" fill="#9a9a9a"/>
<path d="M294.9,267.1 L293.09999999999997,261.9 L296.7,261.9 Z" fill="#9a9a9a"/>
<path d="M310.2,267.1 L308.4,261.9 L312.0,261.9 Z" fill="#9a9a9a"/>
<g id="charts" font-family="DejaVu Sans, Liberation Sans, sans-serif">
<line x1="249.7" y1="233.0" x2="249.7" y2="338.3" stroke="#e3e3e3" stroke-width="0.5"/>
<line x1="265.1" y1="233.0" x2="265.1" y2="338.3" stroke="#e3e3e3" stroke-width="0.5"/>
<line x1="294.9" y1="233.0" x2="294.9" y2="338.3" stroke="#e3e3e3" stroke-width="0.5"/>
<line x1="300.0" y1="233.0" x2="300.0" y2="338.3" stroke="#e3e3e3" stroke-width="0.5"/>
<line x1="310.2" y1="233.0" x2="310.2" y2="338.3" stroke="#e3e3e3" stroke-width="0.5"/>
<line x1="325.3" y1="233.0" x2="325.3" y2="338.3" stroke="#e3e3e3" stroke-width="0.5"/>
<line x1="340.3" y1="233.0" x2="340.3" y2="338.3" stroke="#e3e3e3" stroke-width="0.5"/>
<line x1="355.4" y1="233.0" x2="355.4" y2="338.3" stroke="#e3e3e3" stroke-width="0.5"/>
<line x1="370.5" y1="233.0" x2="370.5" y2="338.3" stroke="#e3e3e3" stroke-width="0.5"/>
<line x1="381.1" y1="233.0" x2="381.1" y2="338.3" stroke="#e3e3e3" stroke-width="0.5"/>
<line x1="433.8" y1="233.0" x2="433.8" y2="338.3" stroke="#e3e3e3" stroke-width="0.5"/>
<line x1="448.9" y1="233.0" x2="448.9" y2="338.3" stroke="#e3e3e3" stroke-width="0.5"/>
<line x1="463.9" y1="233.0" x2="463.9" y2="338.3" stroke="#e3e3e3" stroke-width="0.5"/>
<line x1="479.0" y1="233.0" x2="479.0" y2="338.3" stroke="#e3e3e3" stroke-width="0.5"/>
<line x1="494.2" y1="233.0" x2="494.2" y2="338.3" stroke="#e3e3e3" stroke-width="0.5"/>
<line x1="509.2" y1="233.0" x2="509.2" y2="338.3" stroke="#e3e3e3" stroke-width="0.5"/>
<line x1="524.4" y1="233.0" x2="524.4" y2="338.3" stroke="#e3e3e3" stroke-width="0.5"/>
<line x1="528.5" y1="233.0" x2="528.5" y2="338.3" stroke="#e3e3e3" stroke-width="0.5"/>
<line x1="539.5" y1="233.0" x2="539.5" y2="338.3" stroke="#e3e3e3" stroke-width="0.5"/>
<line x1="549.4" y1="233.0" x2="549.4" y2="338.3" stroke="#e3e3e3" stroke-width="0.5"/>
<line x1="210.6" y1="275.5" x2="586.9" y2="275.5" stroke="#d9d9d9" stroke-width="0.6" stroke-dasharray="6 3 1 3"/>
<line x1="210.6" y1="296.6" x2="586.9" y2="296.6" stroke="#d9d9d9" stroke-width="0.6" stroke-dasharray="6 3 1 3"/>
<rect x="248.6" y="270.0" width="2.2" height="6.2" fill="#d9602b"/>
<rect x="264.0" y="270.0" width="2.2" height="6.2" fill="#d9602b"/>
<rect x="432.7" y="270.0" width="2.2" height="6.2" fill="#d9602b"/>
<rect x="447.8" y="270.0" width="2.2" height="6.2" fill="#d9602b"/>
<rect x="462.8" y="270.0" width="2.2" height="6.2" fill="#d9602b"/>
<rect x="477.9" y="270.0" width="2.2" height="6.2" fill="#d9602b"/>
<rect x="493.1" y="270.0" width="2.2" height="6.2" fill="#d9602b"/>
<rect x="508.1" y="270.0" width="2.2" height="6.2" fill="#d9602b"/>
<rect x="293.8" y="274.1" width="2.2" height="6.2" fill="#e9ac22"/>
<rect x="309.1" y="274.1" width="2.2" height="6.2" fill="#e9ac22"/>
<rect x="324.2" y="274.1" width="2.2" height="6.2" fill="#e9ac22"/>
<rect x="339.2" y="274.1" width="2.2" height="6.2" fill="#e9ac22"/>
<rect x="354.3" y="274.1" width="2.2" height="6.2" fill="#e9ac22"/>
<rect x="369.4" y="274.1" width="2.2" height="6.2" fill="#e9ac22"/>
<rect x="523.3" y="274.1" width="2.2" height="6.2" fill="#e9ac22"/>
<rect x="538.4" y="274.1" width="2.2" height="6.2" fill="#e9ac22"/>
<rect x="298.9" y="291.0" width="2.2" height="6.4" fill="#111"/>
<rect x="527.1" y="291.0" width="2.2" height="6.4" fill="#111"/>
<rect x="379.7" y="295.4" width="2.2" height="6.4" fill="#111"/>
<rect x="548.2" y="295.4" width="2.2" height="6.4" fill="#111"/>
<rect x="210.6" y="233.0" width="376.3" height="105.3" fill="none" stroke="#2a2a2a" stroke-width="0.65"/>
<line x1="210.6" y1="338.3" x2="210.6" y2="340.90000000000003" stroke="#2a2a2a" stroke-width="0.8"/>
<text x="210.6" y="347.8" font-size="5.7" text-anchor="middle" fill="#111" stroke="#111" stroke-width="0.1">0</text>
<line x1="285.9" y1="338.3" x2="285.9" y2="340.90000000000003" stroke="#2a2a2a" stroke-width="0.8"/>
<text x="285.9" y="347.8" font-size="5.7" text-anchor="middle" fill="#111" stroke="#111" stroke-width="0.1">50</text>
<line x1="361.1" y1="338.3" x2="361.1" y2="340.90000000000003" stroke="#2a2a2a" stroke-width="0.8"/>
<text x="361.1" y="347.8" font-size="5.7" text-anchor="middle" fill="#111" stroke="#111" stroke-width="0.1">100</text>
<line x1="436.4" y1="338.3" x2="436.4" y2="340.90000000000003" stroke="#2a2a2a" stroke-width="0.8"/>
<text x="436.4" y="347.8" font-size="5.7" text-anchor="middle" fill="#111" stroke="#111" stroke-width="0.1">150</text>
<line x1="511.6" y1="338.3" x2="511.6" y2="340.90000000000003" stroke="#2a2a2a" stroke-width="0.8"/>
<text x="511.6" y="347.8" font-size="5.7" text-anchor="middle" fill="#111" stroke="#111" stroke-width="0.1">200</text>
<line x1="586.9" y1="338.3" x2="586.9" y2="340.90000000000003" stroke="#2a2a2a" stroke-width="0.8"/>
<text x="586.9" y="347.8" font-size="5.7" text-anchor="middle" fill="#111" stroke="#111" stroke-width="0.1">250</text>
<line x1="208.0" y1="275.5" x2="210.6" y2="275.5" stroke="#2a2a2a" stroke-width="0.8"/>
<text x="205.4" y="277.4" font-size="5.5" text-anchor="end" fill="#111" stroke="#111" stroke-width="0.1">input</text>
<line x1="208.0" y1="296.6" x2="210.6" y2="296.6" stroke="#2a2a2a" stroke-width="0.8"/>
<text x="205.4" y="298.5" font-size="5.5" text-anchor="end" fill="#111" stroke="#111" stroke-width="0.1">output</text>
<rect x="212.7" y="235.3" width="27.8" height="29.4" rx="1" fill="#fff" fill-opacity="0.8" stroke="#d0d0d0" stroke-width="0.5"/>
<line x1="214.1" y1="239.1" x2="224.7" y2="239.1" stroke="#d9602b" stroke-width="1.9"/>
<text x="227.6" y="240.8" font-size="4.8" fill="#111" stroke="#111" stroke-width="0.1">ON</text>
<line x1="214.1" y1="246.1" x2="224.7" y2="246.1" stroke="#e9ac22" stroke-width="1.9"/>
<text x="227.6" y="247.8" font-size="4.8" fill="#111" stroke="#111" stroke-width="0.1">OFF</text>
<line x1="214.1" y1="253.1" x2="224.7" y2="253.1" stroke="#111" stroke-width="1.9"/>
<text x="227.6" y="254.8" font-size="4.8" fill="#111" stroke="#111" stroke-width="0.1">OUT</text>
<line x1="214.1" y1="260.1" x2="224.7" y2="260.1" stroke="#111" stroke-width="1.9"/>
<text x="227.6" y="261.8" font-size="4.8" fill="#111" stroke="#111" stroke-width="0.1">Sync</text>
<text x="243.8" y="336.0" font-size="7.4" font-family="Liberation Sans, DejaVu Sans, sans-serif" fill="#222" stroke="#222" stroke-width="0.1">t<tspan font-size="5.0" dy="1.5">1</tspan></text>
<text x="259.2" y="336.0" font-size="7.4" font-family="Liberation Sans, DejaVu Sans, sans-serif" fill="#222" stroke="#222" stroke-width="0.1">t<tspan font-size="5.0" dy="1.5">2</tspan></text>
<text x="289.0" y="336.0" font-size="7.4" font-family="Liberation Sans, DejaVu Sans, sans-serif" fill="#222" stroke="#222" stroke-width="0.1">t<tspan font-size="5.0" dy="1.5">3</tspan></text>
<text x="304.3" y="336.0" font-size="7.4" font-family="Liberation Sans, DejaVu Sans, sans-serif" fill="#222" stroke="#222" stroke-width="0.1">t<tspan font-size="5.0" dy="1.5">4</tspan></text>
<line x1="249.7" y1="359.6" x2="249.7" y2="464.8" stroke="#e3e3e3" stroke-width="0.5"/>
<line x1="265.1" y1="359.6" x2="265.1" y2="464.8" stroke="#e3e3e3" stroke-width="0.5"/>
<line x1="294.9" y1="359.6" x2="294.9" y2="464.8" stroke="#e3e3e3" stroke-width="0.5"/>
<line x1="300.0" y1="359.6" x2="300.0" y2="464.8" stroke="#e3e3e3" stroke-width="0.5"/>
<line x1="310.2" y1="359.6" x2="310.2" y2="464.8" stroke="#e3e3e3" stroke-width="0.5"/>
<line x1="325.3" y1="359.6" x2="325.3" y2="464.8" stroke="#e3e3e3" stroke-width="0.5"/>
<line x1="340.3" y1="359.6" x2="340.3" y2="464.8" stroke="#e3e3e3" stroke-width="0.5"/>
<line x1="355.4" y1="359.6" x2="355.4" y2="464.8" stroke="#e3e3e3" stroke-width="0.5"/>
<line x1="370.5" y1="359.6" x2="370.5" y2="464.8" stroke="#e3e3e3" stroke-width="0.5"/>
<line x1="381.1" y1="359.6" x2="381.1" y2="464.8" stroke="#e3e3e3" stroke-width="0.5"/>
<line x1="433.8" y1="359.6" x2="433.8" y2="464.8" stroke="#e3e3e3" stroke-width="0.5"/>
<line x1="448.9" y1="359.6" x2="448.9" y2="464.8" stroke="#e3e3e3" stroke-width="0.5"/>
<line x1="463.9" y1="359.6" x2="463.9" y2="464.8" stroke="#e3e3e3" stroke-width="0.5"/>
<line x1="479.0" y1="359.6" x2="479.0" y2="464.8" stroke="#e3e3e3" stroke-width="0.5"/>
<line x1="494.2" y1="359.6" x2="494.2" y2="464.8" stroke="#e3e3e3" stroke-width="0.5"/>
<line x1="509.2" y1="359.6" x2="509.2" y2="464.8" stroke="#e3e3e3" stroke-width="0.5"/>
<line x1="524.4" y1="359.6" x2="524.4" y2="464.8" stroke="#e3e3e3" stroke-width="0.5"/>
<line x1="528.5" y1="359.6" x2="528.5" y2="464.8" stroke="#e3e3e3" stroke-width="0.5"/>
<line x1="539.5" y1="359.6" x2="539.5" y2="464.8" stroke="#e3e3e3" stroke-width="0.5"/>
<line x1="549.4" y1="359.6" x2="549.4" y2="464.8" stroke="#e3e3e3" stroke-width="0.5"/>
<line x1="210.6" y1="385.9" x2="586.9" y2="385.9" stroke="#d4d4d4" stroke-width="0.7"/>
<path d="M210.7,438.5 L250.9,438.5 L251.5,434.4 L252.2,417.4 L253.4,409.8 L254.7,406.0 L257.0,404.5 L259.8,405.1 L263.6,407.0 L266.4,407.9 L266.8,400.4 L267.4,385.8 L267.9,386.2 L268.5,401.3 L270.2,400.9 L272.1,399.4 L273.4,399.0 L276.8,400.4 L295.7,409.2 L297.6,411.1 L298.9,414.5 L300.4,415.8 L300.6,415.7 L310.4,418.9 L312.3,420.2 L313.6,423.4 L317.0,425.5 L325.5,426.8 L327.4,428.7 L328.9,431.5 L332.1,432.9 L340.6,433.6 L342.5,435.9 L344.4,438.1 L348.2,438.7 L355.7,438.7 L357.3,441.0 L359.0,443.4 L362.4,443.8 L370.9,443.4 L372.8,445.7 L374.6,447.6 L377.5,448.0 L400.2,445.9 L400.4,445.9 L435.0,443.1 L435.5,430.6 L436.3,419.2 L437.4,412.6 L439.3,409.4 L442.0,408.5 L450.1,411.1 L451.0,400.4 L452.0,392.8 L452.5,385.8 L453.1,392.8 L453.7,401.3 L456.7,400.0 L465.2,403.6 L466.1,392.8 L466.5,385.8 L467.1,395.6 L468.0,400.4 L470.9,397.5 L473.7,398.1 L480.9,401.3 L481.3,385.8 L481.8,396.6 L482.8,400.9 L486.0,396.6 L488.8,397.1 L496.0,400.9 L496.6,385.8 L497.1,396.6 L497.9,401.3 L501.1,396.6 L503.9,397.0 L511.1,400.9 L511.5,385.8 L512.1,396.6 L512.8,401.3 L516.2,397.0 L520.0,398.1 L520.2,397.7 L524.4,400.0 L526.3,403.2 L528.2,406.4 L532.0,408.9 L539.5,411.7 L541.4,414.5 L543.3,417.4 L546.1,419.2 L555.6,421.5 L587.1,427.4" fill="none" stroke="#4a9bd8" stroke-width="0.72" stroke-linejoin="round"/>
<path d="M210.7,438.5 L250.9,438.5 L252.2,441.0 L253.8,442.9 L257.0,443.4 L265.8,443.4 L267.4,445.3 L269.2,447.6 L272.1,448.0 L295.7,445.3 L296.6,443.8 L297.6,430.6 L298.5,417.4 L299.5,413.6 L300.0,412.6 L302.8,410.7 L311.0,413.2 L311.9,409.8 L312.8,392.8 L313.4,385.8 L314.0,392.8 L314.7,401.3 L317.0,400.4 L326.5,404.1 L327.4,396.6 L328.0,385.8 L328.5,395.6 L329.3,400.4 L332.1,397.5 L335.0,398.5 L341.6,401.7 L342.3,395.6 L342.7,385.8 L343.3,396.6 L344.0,401.3 L347.2,397.0 L350.1,397.5 L356.7,400.7 L357.3,394.7 L357.6,385.8 L358.2,395.6 L359.0,401.3 L362.4,397.0 L365.2,397.5 L371.8,400.7 L372.4,394.7 L372.8,385.8 L373.3,395.6 L374.1,401.3 L377.1,396.6 L379.4,396.6 L400.2,406.4 L400.4,406.6 L435.0,418.9 L436.3,422.1 L437.8,424.0 L449.1,426.4 L451.0,429.6 L452.9,432.1 L455.7,432.9 L465.2,433.4 L466.5,436.3 L468.4,438.1 L471.8,438.7 L480.3,438.7 L481.6,441.5 L483.5,443.1 L486.9,443.4 L495.0,443.4 L496.7,446.1 L498.6,447.6 L502.0,447.6 L510.0,447.0 L511.5,449.5 L513.4,451.4 L516.2,451.7 L520.0,450.4 L520.2,451.0 L525.0,450.0 L525.9,443.8 L526.9,430.6 L528.2,419.2 L530.1,415.5 L532.9,414.5 L538.6,416.0 L540.5,416.4 L541.4,411.7 L542.4,392.8 L543.3,386.7 L543.9,386.2 L544.4,392.8 L544.8,401.3 L547.1,401.3 L587.1,416.4" fill="none" stroke="#8bbd5c" stroke-width="0.72" stroke-linejoin="round"/>
<rect x="210.6" y="359.6" width="376.3" height="105.2" fill="none" stroke="#2a2a2a" stroke-width="0.65"/>
<line x1="210.6" y1="464.8" x2="210.6" y2="467.40000000000003" stroke="#2a2a2a" stroke-width="0.8"/>
<text x="210.6" y="474.3" font-size="5.7" text-anchor="middle" fill="#111" stroke="#111" stroke-width="0.1">0</text>
<line x1="285.9" y1="464.8" x2="285.9" y2="467.40000000000003" stroke="#2a2a2a" stroke-width="0.8"/>
<text x="285.9" y="474.3" font-size="5.7" text-anchor="middle" fill="#111" stroke="#111" stroke-width="0.1">50</text>
<line x1="361.1" y1="464.8" x2="361.1" y2="467.40000000000003" stroke="#2a2a2a" stroke-width="0.8"/>
<text x="361.1" y="474.3" font-size="5.7" text-anchor="middle" fill="#111" stroke="#111" stroke-width="0.1">100</text>
<line x1="436.4" y1="464.8" x2="436.4" y2="467.40000000000003" stroke="#2a2a2a" stroke-width="0.8"/>
<text x="436.4" y="474.3" font-size="5.7" text-anchor="middle" fill="#111" stroke="#111" stroke-width="0.1">150</text>
<line x1="511.6" y1="464.8" x2="511.6" y2="467.40000000000003" stroke="#2a2a2a" stroke-width="0.8"/>
<text x="511.6" y="474.3" font-size="5.7" text-anchor="middle" fill="#111" stroke="#111" stroke-width="0.1">200</text>
<line x1="586.9" y1="464.8" x2="586.9" y2="467.40000000000003" stroke="#2a2a2a" stroke-width="0.8"/>
<text x="586.9" y="474.3" font-size="5.7" text-anchor="middle" fill="#111" stroke="#111" stroke-width="0.1">250</text>
<line x1="208.0" y1="359.6" x2="210.6" y2="359.6" stroke="#2a2a2a" stroke-width="0.8"/>
<text x="206.0" y="361.6" font-size="5.7" text-anchor="end" fill="#111" stroke="#111" stroke-width="0.1">1.50</text>
<line x1="208.0" y1="372.8" x2="210.6" y2="372.8" stroke="#2a2a2a" stroke-width="0.8"/>
<text x="206.0" y="374.8" font-size="5.7" text-anchor="end" fill="#111" stroke="#111" stroke-width="0.1">1.25</text>
<line x1="208.0" y1="385.9" x2="210.6" y2="385.9" stroke="#2a2a2a" stroke-width="0.8"/>
<text x="206.0" y="387.9" font-size="5.7" text-anchor="end" fill="#111" stroke="#111" stroke-width="0.1">1.00</text>
<line x1="208.0" y1="399.1" x2="210.6" y2="399.1" stroke="#2a2a2a" stroke-width="0.8"/>
<text x="206.0" y="401.1" font-size="5.7" text-anchor="end" fill="#111" stroke="#111" stroke-width="0.1">0.75</text>
<line x1="208.0" y1="412.2" x2="210.6" y2="412.2" stroke="#2a2a2a" stroke-width="0.8"/>
<text x="206.0" y="414.2" font-size="5.7" text-anchor="end" fill="#111" stroke="#111" stroke-width="0.1">0.50</text>
<line x1="208.0" y1="425.4" x2="210.6" y2="425.4" stroke="#2a2a2a" stroke-width="0.8"/>
<text x="206.0" y="427.4" font-size="5.7" text-anchor="end" fill="#111" stroke="#111" stroke-width="0.1">0.25</text>
<line x1="208.0" y1="438.5" x2="210.6" y2="438.5" stroke="#2a2a2a" stroke-width="0.8"/>
<text x="206.0" y="440.5" font-size="5.7" text-anchor="end" fill="#111" stroke="#111" stroke-width="0.1">0.00</text>
<line x1="208.0" y1="451.7" x2="210.6" y2="451.7" stroke="#2a2a2a" stroke-width="0.8"/>
<text x="206.0" y="453.7" font-size="5.7" text-anchor="end" fill="#111" stroke="#111" stroke-width="0.1">−0.25</text>
<line x1="208.0" y1="464.8" x2="210.6" y2="464.8" stroke="#2a2a2a" stroke-width="0.8"/>
<text x="206.0" y="466.8" font-size="5.7" text-anchor="end" fill="#111" stroke="#111" stroke-width="0.1">−0.50</text>
<text transform="translate(184.9,412.3) rotate(-90)" font-size="4.5" text-anchor="middle" fill="#111" stroke="#111" stroke-width="0.08">v (mV)</text>
<rect x="213.2" y="362.2" width="39.0" height="22.3" rx="1" fill="#fff" fill-opacity="0.8" stroke="#d0d0d0" stroke-width="0.5"/>
<line x1="215.0" y1="365.7" x2="224.2" y2="365.7" stroke="#4a9bd8" stroke-width="0.8"/>
<text x="227.6" y="367.3" font-size="4.5" fill="#111" stroke="#111" stroke-width="0.08"><tspan font-weight="bold" font-size="5.2">B</tspan><tspan font-weight="bold" font-size="4.0" dy="1.0">lgn</tspan><tspan dy="-1.0"> ON</tspan></text>
<line x1="215.0" y1="372.4" x2="224.2" y2="372.4" stroke="#8bbd5c" stroke-width="0.8"/>
<text x="227.6" y="374.0" font-size="4.5" fill="#111" stroke="#111" stroke-width="0.08"><tspan font-weight="bold" font-size="5.2">B</tspan><tspan font-weight="bold" font-size="4.0" dy="1.0">lgn</tspan><tspan dy="-1.0"> OFF</tspan></text>
<line x1="215.0" y1="379.7" x2="224.2" y2="379.7" stroke="#cfcfcf" stroke-width="0.8"/>
<text x="227.6" y="381.3" font-size="4.5" fill="#111" stroke="#111" stroke-width="0.08">Threshold</text>
<line x1="249.7" y1="486.3" x2="249.7" y2="591.1" stroke="#e3e3e3" stroke-width="0.5"/>
<line x1="265.1" y1="486.3" x2="265.1" y2="591.1" stroke="#e3e3e3" stroke-width="0.5"/>
<line x1="294.9" y1="486.3" x2="294.9" y2="591.1" stroke="#e3e3e3" stroke-width="0.5"/>
<line x1="300.0" y1="486.3" x2="300.0" y2="591.1" stroke="#e3e3e3" stroke-width="0.5"/>
<line x1="310.2" y1="486.3" x2="310.2" y2="591.1" stroke="#e3e3e3" stroke-width="0.5"/>
<line x1="325.3" y1="486.3" x2="325.3" y2="591.1" stroke="#e3e3e3" stroke-width="0.5"/>
<line x1="340.3" y1="486.3" x2="340.3" y2="591.1" stroke="#e3e3e3" stroke-width="0.5"/>
<line x1="355.4" y1="486.3" x2="355.4" y2="591.1" stroke="#e3e3e3" stroke-width="0.5"/>
<line x1="370.5" y1="486.3" x2="370.5" y2="591.1" stroke="#e3e3e3" stroke-width="0.5"/>
<line x1="381.1" y1="486.3" x2="381.1" y2="591.1" stroke="#e3e3e3" stroke-width="0.5"/>
<line x1="433.8" y1="486.3" x2="433.8" y2="591.1" stroke="#e3e3e3" stroke-width="0.5"/>
<line x1="448.9" y1="486.3" x2="448.9" y2="591.1" stroke="#e3e3e3" stroke-width="0.5"/>
<line x1="463.9" y1="486.3" x2="463.9" y2="591.1" stroke="#e3e3e3" stroke-width="0.5"/>
<line x1="479.0" y1="486.3" x2="479.0" y2="591.1" stroke="#e3e3e3" stroke-width="0.5"/>
<line x1="494.2" y1="486.3" x2="494.2" y2="591.1" stroke="#e3e3e3" stroke-width="0.5"/>
<line x1="509.2" y1="486.3" x2="509.2" y2="591.1" stroke="#e3e3e3" stroke-width="0.5"/>
<line x1="524.4" y1="486.3" x2="524.4" y2="591.1" stroke="#e3e3e3" stroke-width="0.5"/>
<line x1="528.5" y1="486.3" x2="528.5" y2="591.1" stroke="#e3e3e3" stroke-width="0.5"/>
<line x1="539.5" y1="486.3" x2="539.5" y2="591.1" stroke="#e3e3e3" stroke-width="0.5"/>
<line x1="549.4" y1="486.3" x2="549.4" y2="591.1" stroke="#e3e3e3" stroke-width="0.5"/>
<line x1="210.6" y1="510.4" x2="586.9" y2="510.4" stroke="#d0d0d0" stroke-width="0.7"/>
<path d="M210.7,573.6 L252.2,573.6 L253.2,563.3 L254.1,551.9 L255.5,542.5 L257.0,539.1 L259.8,537.7 L263.6,538.1 L267.4,538.3 L268.1,527.4 L268.9,517.0 L269.2,516.0 L269.8,522.6 L271.1,530.2 L273.0,534.0 L275.9,535.9 L284.4,537.2 L297.6,538.7 L298.3,529.2 L299.1,517.9 L300.0,510.3 L300.4,511.3 L300.6,549.1 L301.4,548.5 L301.9,548.1 L304.7,546.8 L312.8,547.6 L313.6,538.7 L314.4,524.5 L315.1,519.2 L315.9,525.5 L317.0,536.8 L318.9,542.1 L321.7,544.4 L328.0,545.5 L328.3,534.9 L328.9,526.8 L329.7,531.1 L330.8,538.7 L333.1,542.1 L336.8,543.0 L343.1,543.6 L343.5,533.0 L343.8,527.4 L344.6,532.1 L345.7,537.7 L348.2,540.2 L352.0,541.3 L357.6,541.7 L358.2,531.1 L358.8,526.8 L359.5,532.1 L360.8,536.8 L363.3,538.7 L367.1,539.4 L372.8,540.2 L373.3,529.2 L373.9,525.5 L374.6,530.2 L376.2,534.9 L378.4,536.8 L381.6,537.7 L382.4,544.4 L383.1,555.7 L384.5,565.1 L386.0,569.9 L387.9,572.3 L390.7,573.5 L400.2,573.5 L400.4,573.5 L436.3,573.5 L436.8,563.3 L437.8,548.1 L439.1,540.6 L441.2,537.7 L444.4,537.4 L451.4,537.6 L452.0,525.5 L452.7,515.1 L453.3,511.7 L453.9,517.9 L454.8,527.4 L456.7,532.6 L459.5,535.3 L466.1,536.8 L466.5,527.4 L467.3,518.5 L468.0,524.5 L469.3,530.2 L471.8,533.0 L475.6,534.2 L481.3,535.1 L481.6,526.4 L482.2,519.2 L483.0,524.5 L484.3,529.2 L486.9,531.9 L490.7,533.0 L496.7,533.8 L497.1,525.5 L497.5,518.5 L498.3,523.6 L499.8,528.3 L502.4,530.8 L506.2,531.7 L511.5,532.5 L511.9,523.6 L512.4,517.3 L513.2,522.6 L514.5,527.0 L517.2,529.2 L520.0,530.2 L520.6,530.4 L526.5,531.1 L527.1,519.8 L527.6,510.3 L528.0,510.7 L528.1,549.1 L528.8,549.5 L530.1,546.6 L532.5,544.4 L535.7,543.8 L541.4,544.0 L542.0,534.9 L542.9,521.7 L543.9,515.1 L544.8,512.2 L545.6,517.9 L546.5,529.2 L547.6,536.8 L549.2,540.2 L550.7,541.7 L551.4,550.0 L552.4,561.4 L553.7,570.8 L555.2,575.5 L557.5,577.4 L587.1,577.4" fill="none" stroke="#222" stroke-width="0.75" stroke-linejoin="round"/>
<rect x="210.6" y="486.3" width="376.3" height="104.8" fill="none" stroke="#2a2a2a" stroke-width="0.65"/>
<line x1="210.6" y1="591.1" x2="210.6" y2="593.7" stroke="#2a2a2a" stroke-width="0.8"/>
<text x="210.6" y="600.6" font-size="5.7" text-anchor="middle" fill="#111" stroke="#111" stroke-width="0.1">0</text>
<line x1="285.9" y1="591.1" x2="285.9" y2="593.7" stroke="#2a2a2a" stroke-width="0.8"/>
<text x="285.9" y="600.6" font-size="5.7" text-anchor="middle" fill="#111" stroke="#111" stroke-width="0.1">50</text>
<line x1="361.1" y1="591.1" x2="361.1" y2="593.7" stroke="#2a2a2a" stroke-width="0.8"/>
<text x="361.1" y="600.6" font-size="5.7" text-anchor="middle" fill="#111" stroke="#111" stroke-width="0.1">100</text>
<line x1="436.4" y1="591.1" x2="436.4" y2="593.7" stroke="#2a2a2a" stroke-width="0.8"/>
<text x="436.4" y="600.6" font-size="5.7" text-anchor="middle" fill="#111" stroke="#111" stroke-width="0.1">150</text>
<line x1="511.6" y1="591.1" x2="511.6" y2="593.7" stroke="#2a2a2a" stroke-width="0.8"/>
<text x="511.6" y="600.6" font-size="5.7" text-anchor="middle" fill="#111" stroke="#111" stroke-width="0.1">200</text>
<line x1="586.9" y1="591.1" x2="586.9" y2="593.7" stroke="#2a2a2a" stroke-width="0.8"/>
<text x="586.9" y="600.6" font-size="5.7" text-anchor="middle" fill="#111" stroke="#111" stroke-width="0.1">250</text>
<line x1="208.0" y1="486.3" x2="210.6" y2="486.3" stroke="#2a2a2a" stroke-width="0.8"/>
<text x="206.0" y="488.3" font-size="5.7" text-anchor="end" fill="#111" stroke="#111" stroke-width="0.1">2.5</text>
<line x1="208.0" y1="503.8" x2="210.6" y2="503.8" stroke="#2a2a2a" stroke-width="0.8"/>
<text x="206.0" y="505.8" font-size="5.7" text-anchor="end" fill="#111" stroke="#111" stroke-width="0.1">2.0</text>
<line x1="208.0" y1="521.2" x2="210.6" y2="521.2" stroke="#2a2a2a" stroke-width="0.8"/>
<text x="206.0" y="523.2" font-size="5.7" text-anchor="end" fill="#111" stroke="#111" stroke-width="0.1">1.5</text>
<line x1="208.0" y1="538.7" x2="210.6" y2="538.7" stroke="#2a2a2a" stroke-width="0.8"/>
<text x="206.0" y="540.7" font-size="5.7" text-anchor="end" fill="#111" stroke="#111" stroke-width="0.1">1.0</text>
<line x1="208.0" y1="556.2" x2="210.6" y2="556.2" stroke="#2a2a2a" stroke-width="0.8"/>
<text x="206.0" y="558.2" font-size="5.7" text-anchor="end" fill="#111" stroke="#111" stroke-width="0.1">0.5</text>
<line x1="208.0" y1="573.6" x2="210.6" y2="573.6" stroke="#2a2a2a" stroke-width="0.8"/>
<text x="206.0" y="575.6" font-size="5.7" text-anchor="end" fill="#111" stroke="#111" stroke-width="0.1">0.0</text>
<line x1="208.0" y1="591.1" x2="210.6" y2="591.1" stroke="#2a2a2a" stroke-width="0.8"/>
<text x="206.0" y="593.1" font-size="5.7" text-anchor="end" fill="#111" stroke="#111" stroke-width="0.1">−0.5</text>
<text transform="translate(188.2,536.7) rotate(-90)" font-size="4.5" text-anchor="middle" fill="#111" stroke="#111" stroke-width="0.08">(mV)</text>
<text x="398.2" y="607.6" font-size="4.7" text-anchor="middle" fill="#111" stroke="#111" stroke-width="0.1">Time (ms)</text>
<rect x="212.6" y="488.6" width="50.6" height="15.6" rx="1" fill="#fff" fill-opacity="0.8" stroke="#d0d0d0" stroke-width="0.5"/>
<line x1="214.8" y1="492.4" x2="224.0" y2="492.4" stroke="#222" stroke-width="0.8"/>
<text x="227.7" y="494.0" font-size="4.5" fill="#111" stroke="#111" stroke-width="0.08"><tspan font-weight="bold">Out</tspan>put neuron</text>
<line x1="214.8" y1="499.4" x2="224.0" y2="499.4" stroke="#cfcfcf" stroke-width="0.8"/>
<text x="227.7" y="501.0" font-size="4.5" fill="#111" stroke="#111" stroke-width="0.08">Threshold</text>
</g>
<text x="129.9" y="256.3" font-size="13" text-anchor="start" fill="#111" stroke="#111" stroke-width="0.22" font-weight="bold" textLength="9.6" lengthAdjust="spacingAndGlyphs" >c)</text>
<text x="129.9" y="386.7" font-size="13" text-anchor="start" fill="#111" stroke="#111" stroke-width="0.22" font-weight="bold" textLength="11.3" lengthAdjust="spacingAndGlyphs" >d)</text>
<text x="129.9" y="509.6" font-size="13" text-anchor="start" fill="#111" stroke="#111" stroke-width="0.22" font-weight="bold" textLength="10.2" lengthAdjust="spacingAndGlyphs" >e)</text>
</svg>
</body></html>
